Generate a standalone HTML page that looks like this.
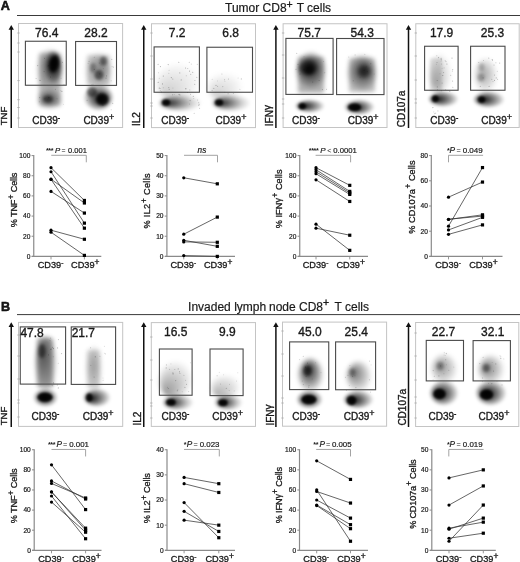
<!DOCTYPE html><html><head><meta charset="utf-8"><title>Figure</title><style>
html,body{margin:0;padding:0;background:#fff;}body{width:520px;height:562px;overflow:hidden;}
svg{display:block;}text{font-family:'Liberation Sans', Arial, Helvetica, sans-serif;fill:#1a1a1a;}.h{stroke:#1a1a1a;stroke-width:0.35px;}.h2{stroke:#1a1a1a;stroke-width:0.2px;}.h3{stroke:#1a1a1a;stroke-width:0.3px;}
</style></head><body>
<svg width="520" height="562" viewBox="0 0 520 562">
<defs>
<filter id="b1" x="-100%" y="-100%" width="300%" height="300%"><feGaussianBlur stdDeviation="0.8"/></filter>
<filter id="b2" x="-100%" y="-100%" width="300%" height="300%"><feGaussianBlur stdDeviation="1.6"/></filter>
<filter id="b3" x="-100%" y="-100%" width="300%" height="300%"><feGaussianBlur stdDeviation="2.8"/></filter>
<filter id="b4" x="-100%" y="-100%" width="300%" height="300%"><feGaussianBlur stdDeviation="4"/></filter>
<clipPath id="c1"><rect x="19" y="24" width="103.1" height="103"/></clipPath>
<clipPath id="c2"><rect x="152" y="24.25" width="103" height="102.85"/></clipPath>
<clipPath id="c3"><rect x="283.6" y="24.25" width="102.9" height="102.75"/></clipPath>
<clipPath id="c4"><rect x="416.3" y="24.25" width="102.4" height="102.75"/></clipPath>
<clipPath id="c5"><rect x="19" y="322.9" width="103.2" height="103"/></clipPath>
<clipPath id="c6"><rect x="151.8" y="323.1" width="103.2" height="102.8"/></clipPath>
<clipPath id="c7"><rect x="283" y="322.6" width="103.1" height="103.1"/></clipPath>
<clipPath id="c8"><rect x="416.1" y="323" width="102.2" height="103"/></clipPath>
<radialGradient id="rg0" cx="0.5" cy="0.5" r="0.5" fx="0.6" fy="0.35"><stop offset="0" stop-color="#000" stop-opacity="0.5"/><stop offset="0.25" stop-color="#000" stop-opacity="0.41"/><stop offset="0.5" stop-color="#000" stop-opacity="0.29"/><stop offset="0.75" stop-color="#000" stop-opacity="0.15"/><stop offset="1" stop-color="#000" stop-opacity="0"/></radialGradient><radialGradient id="rg1" cx="0.5" cy="0.5" r="0.5" fx="0.55" fy="0.35"><stop offset="0" stop-color="#000" stop-opacity="0.95"/><stop offset="0.25" stop-color="#000" stop-opacity="0.78"/><stop offset="0.5" stop-color="#000" stop-opacity="0.54"/><stop offset="0.75" stop-color="#000" stop-opacity="0.29"/><stop offset="1" stop-color="#000" stop-opacity="0"/></radialGradient><radialGradient id="rg2" cx="0.5" cy="0.5" r="0.5" fx="0.45" fy="0.55"><stop offset="0" stop-color="#000" stop-opacity="0.6"/><stop offset="0.25" stop-color="#000" stop-opacity="0.49"/><stop offset="0.5" stop-color="#000" stop-opacity="0.34"/><stop offset="0.75" stop-color="#000" stop-opacity="0.18"/><stop offset="1" stop-color="#000" stop-opacity="0"/></radialGradient><radialGradient id="rg3" cx="0.5" cy="0.5" r="0.5" fx="0.6" fy="0.4"><stop offset="0" stop-color="#000" stop-opacity="0.35"/><stop offset="0.25" stop-color="#000" stop-opacity="0.29"/><stop offset="0.5" stop-color="#000" stop-opacity="0.2"/><stop offset="0.75" stop-color="#000" stop-opacity="0.1"/><stop offset="1" stop-color="#000" stop-opacity="0"/></radialGradient><radialGradient id="rg4" cx="0.5" cy="0.5" r="0.5" fx="0.6" fy="0.55"><stop offset="0" stop-color="#000" stop-opacity="1"/><stop offset="0.25" stop-color="#000" stop-opacity="0.82"/><stop offset="0.5" stop-color="#000" stop-opacity="0.57"/><stop offset="0.75" stop-color="#000" stop-opacity="0.3"/><stop offset="1" stop-color="#000" stop-opacity="0"/></radialGradient><radialGradient id="rg5" cx="0.5" cy="0.5" r="0.5" fx="0.2" fy="0.88"><stop offset="0" stop-color="#000" stop-opacity="0.2"/><stop offset="0.25" stop-color="#000" stop-opacity="0.16"/><stop offset="0.5" stop-color="#000" stop-opacity="0.11"/><stop offset="0.75" stop-color="#000" stop-opacity="0.06"/><stop offset="1" stop-color="#000" stop-opacity="0"/></radialGradient><radialGradient id="rg6" cx="0.5" cy="0.5" r="0.5" fx="0.17" fy="0.5"><stop offset="0" stop-color="#000" stop-opacity="0.88"/><stop offset="0.25" stop-color="#000" stop-opacity="0.66"/><stop offset="0.5" stop-color="#000" stop-opacity="0.4"/><stop offset="0.75" stop-color="#000" stop-opacity="0.16"/><stop offset="1" stop-color="#000" stop-opacity="0"/></radialGradient><radialGradient id="rg7" cx="0.5" cy="0.5" r="0.5" fx="0.2" fy="0.88"><stop offset="0" stop-color="#000" stop-opacity="0.2"/><stop offset="0.25" stop-color="#000" stop-opacity="0.16"/><stop offset="0.5" stop-color="#000" stop-opacity="0.11"/><stop offset="0.75" stop-color="#000" stop-opacity="0.06"/><stop offset="1" stop-color="#000" stop-opacity="0"/></radialGradient><radialGradient id="rg8" cx="0.5" cy="0.5" r="0.5" fx="0.19" fy="0.5"><stop offset="0" stop-color="#000" stop-opacity="0.88"/><stop offset="0.25" stop-color="#000" stop-opacity="0.66"/><stop offset="0.5" stop-color="#000" stop-opacity="0.4"/><stop offset="0.75" stop-color="#000" stop-opacity="0.16"/><stop offset="1" stop-color="#000" stop-opacity="0"/></radialGradient><radialGradient id="rg9" cx="0.5" cy="0.5" r="0.5" fx="0.45" fy="0.4"><stop offset="0" stop-color="#000" stop-opacity="0.85"/><stop offset="0.25" stop-color="#000" stop-opacity="0.69"/><stop offset="0.5" stop-color="#000" stop-opacity="0.49"/><stop offset="0.75" stop-color="#000" stop-opacity="0.26"/><stop offset="1" stop-color="#000" stop-opacity="0"/></radialGradient><radialGradient id="rg10" cx="0.5" cy="0.5" r="0.5" fx="0.24" fy="0.5"><stop offset="0" stop-color="#000" stop-opacity="0.95"/><stop offset="0.25" stop-color="#000" stop-opacity="0.78"/><stop offset="0.5" stop-color="#000" stop-opacity="0.54"/><stop offset="0.75" stop-color="#000" stop-opacity="0.29"/><stop offset="1" stop-color="#000" stop-opacity="0"/></radialGradient><radialGradient id="rg11" cx="0.5" cy="0.5" r="0.5" fx="0.58" fy="0.4"><stop offset="0" stop-color="#000" stop-opacity="0.7"/><stop offset="0.25" stop-color="#000" stop-opacity="0.57"/><stop offset="0.5" stop-color="#000" stop-opacity="0.4"/><stop offset="0.75" stop-color="#000" stop-opacity="0.21"/><stop offset="1" stop-color="#000" stop-opacity="0"/></radialGradient><radialGradient id="rg12" cx="0.5" cy="0.5" r="0.5" fx="0.33" fy="0.55"><stop offset="0" stop-color="#000" stop-opacity="0.98"/><stop offset="0.25" stop-color="#000" stop-opacity="0.8"/><stop offset="0.5" stop-color="#000" stop-opacity="0.56"/><stop offset="0.75" stop-color="#000" stop-opacity="0.29"/><stop offset="1" stop-color="#000" stop-opacity="0"/></radialGradient><radialGradient id="rg13" cx="0.5" cy="0.5" r="0.5" fx="0.3" fy="0.72"><stop offset="0" stop-color="#000" stop-opacity="0.28"/><stop offset="0.25" stop-color="#000" stop-opacity="0.23"/><stop offset="0.5" stop-color="#000" stop-opacity="0.16"/><stop offset="0.75" stop-color="#000" stop-opacity="0.08"/><stop offset="1" stop-color="#000" stop-opacity="0"/></radialGradient><radialGradient id="rg14" cx="0.5" cy="0.5" r="0.5" fx="0.24" fy="0.5"><stop offset="0" stop-color="#000" stop-opacity="0.95"/><stop offset="0.25" stop-color="#000" stop-opacity="0.78"/><stop offset="0.5" stop-color="#000" stop-opacity="0.54"/><stop offset="0.75" stop-color="#000" stop-opacity="0.29"/><stop offset="1" stop-color="#000" stop-opacity="0"/></radialGradient><radialGradient id="rg15" cx="0.5" cy="0.5" r="0.5" fx="0.4" fy="0.45"><stop offset="0" stop-color="#000" stop-opacity="0.33"/><stop offset="0.25" stop-color="#000" stop-opacity="0.27"/><stop offset="0.5" stop-color="#000" stop-opacity="0.19"/><stop offset="0.75" stop-color="#000" stop-opacity="0.1"/><stop offset="1" stop-color="#000" stop-opacity="0"/></radialGradient><radialGradient id="rg16" cx="0.5" cy="0.5" r="0.5" fx="0.26" fy="0.5"><stop offset="0" stop-color="#000" stop-opacity="0.95"/><stop offset="0.25" stop-color="#000" stop-opacity="0.78"/><stop offset="0.5" stop-color="#000" stop-opacity="0.54"/><stop offset="0.75" stop-color="#000" stop-opacity="0.29"/><stop offset="1" stop-color="#000" stop-opacity="0"/></radialGradient><radialGradient id="rg17" cx="0.5" cy="0.5" r="0.5" fx="0.33" fy="0.25"><stop offset="0" stop-color="#000" stop-opacity="0.55"/><stop offset="0.25" stop-color="#000" stop-opacity="0.45"/><stop offset="0.5" stop-color="#000" stop-opacity="0.31"/><stop offset="0.75" stop-color="#000" stop-opacity="0.17"/><stop offset="1" stop-color="#000" stop-opacity="0"/></radialGradient><radialGradient id="rg18" cx="0.5" cy="0.5" r="0.5" fx="0.45" fy="0.5"><stop offset="0" stop-color="#000" stop-opacity="1"/><stop offset="0.25" stop-color="#000" stop-opacity="0.82"/><stop offset="0.5" stop-color="#000" stop-opacity="0.57"/><stop offset="0.75" stop-color="#000" stop-opacity="0.3"/><stop offset="1" stop-color="#000" stop-opacity="0"/></radialGradient><radialGradient id="rg19" cx="0.5" cy="0.5" r="0.5" fx="0.45" fy="0.45"><stop offset="0" stop-color="#000" stop-opacity="0.25"/><stop offset="0.25" stop-color="#000" stop-opacity="0.2"/><stop offset="0.5" stop-color="#000" stop-opacity="0.14"/><stop offset="0.75" stop-color="#000" stop-opacity="0.07"/><stop offset="1" stop-color="#000" stop-opacity="0"/></radialGradient><radialGradient id="rg20" cx="0.5" cy="0.5" r="0.5" fx="0.22" fy="0.55"><stop offset="0" stop-color="#000" stop-opacity="0.95"/><stop offset="0.25" stop-color="#000" stop-opacity="0.78"/><stop offset="0.5" stop-color="#000" stop-opacity="0.54"/><stop offset="0.75" stop-color="#000" stop-opacity="0.29"/><stop offset="1" stop-color="#000" stop-opacity="0"/></radialGradient><radialGradient id="rg21" cx="0.5" cy="0.5" r="0.5" fx="0.2" fy="0.88"><stop offset="0" stop-color="#000" stop-opacity="0.4"/><stop offset="0.25" stop-color="#000" stop-opacity="0.33"/><stop offset="0.5" stop-color="#000" stop-opacity="0.23"/><stop offset="0.75" stop-color="#000" stop-opacity="0.12"/><stop offset="1" stop-color="#000" stop-opacity="0"/></radialGradient><radialGradient id="rg22" cx="0.5" cy="0.5" r="0.5" fx="0.2" fy="0.88"><stop offset="0" stop-color="#000" stop-opacity="0.32"/><stop offset="0.25" stop-color="#000" stop-opacity="0.26"/><stop offset="0.5" stop-color="#000" stop-opacity="0.18"/><stop offset="0.75" stop-color="#000" stop-opacity="0.1"/><stop offset="1" stop-color="#000" stop-opacity="0"/></radialGradient><radialGradient id="rg23" cx="0.5" cy="0.5" r="0.5" fx="0.22" fy="0.5"><stop offset="0" stop-color="#000" stop-opacity="0.95"/><stop offset="0.25" stop-color="#000" stop-opacity="0.73"/><stop offset="0.5" stop-color="#000" stop-opacity="0.46"/><stop offset="0.75" stop-color="#000" stop-opacity="0.2"/><stop offset="1" stop-color="#000" stop-opacity="0"/></radialGradient><radialGradient id="rg24" cx="0.5" cy="0.5" r="0.5" fx="0.25" fy="0.5"><stop offset="0" stop-color="#000" stop-opacity="0.95"/><stop offset="0.25" stop-color="#000" stop-opacity="0.73"/><stop offset="0.5" stop-color="#000" stop-opacity="0.46"/><stop offset="0.75" stop-color="#000" stop-opacity="0.2"/><stop offset="1" stop-color="#000" stop-opacity="0"/></radialGradient><radialGradient id="rg25" cx="0.5" cy="0.5" r="0.5" fx="0.4" fy="0.3"><stop offset="0" stop-color="#000" stop-opacity="0.85"/><stop offset="0.25" stop-color="#000" stop-opacity="0.69"/><stop offset="0.5" stop-color="#000" stop-opacity="0.49"/><stop offset="0.75" stop-color="#000" stop-opacity="0.26"/><stop offset="1" stop-color="#000" stop-opacity="0"/></radialGradient><radialGradient id="rg26" cx="0.5" cy="0.5" r="0.5" fx="0.42" fy="0.5"><stop offset="0" stop-color="#000" stop-opacity="1"/><stop offset="0.25" stop-color="#000" stop-opacity="0.82"/><stop offset="0.5" stop-color="#000" stop-opacity="0.57"/><stop offset="0.75" stop-color="#000" stop-opacity="0.3"/><stop offset="1" stop-color="#000" stop-opacity="0"/></radialGradient><radialGradient id="rg27" cx="0.5" cy="0.5" r="0.5" fx="0.3" fy="0.35"><stop offset="0" stop-color="#000" stop-opacity="0.55"/><stop offset="0.25" stop-color="#000" stop-opacity="0.45"/><stop offset="0.5" stop-color="#000" stop-opacity="0.31"/><stop offset="0.75" stop-color="#000" stop-opacity="0.17"/><stop offset="1" stop-color="#000" stop-opacity="0"/></radialGradient><radialGradient id="rg28" cx="0.5" cy="0.5" r="0.5" fx="0.25" fy="0.55"><stop offset="0" stop-color="#000" stop-opacity="0.98"/><stop offset="0.25" stop-color="#000" stop-opacity="0.8"/><stop offset="0.5" stop-color="#000" stop-opacity="0.56"/><stop offset="0.75" stop-color="#000" stop-opacity="0.29"/><stop offset="1" stop-color="#000" stop-opacity="0"/></radialGradient><radialGradient id="rg29" cx="0.5" cy="0.5" r="0.5" fx="0.35" fy="0.4"><stop offset="0" stop-color="#000" stop-opacity="0.42"/><stop offset="0.25" stop-color="#000" stop-opacity="0.34"/><stop offset="0.5" stop-color="#000" stop-opacity="0.24"/><stop offset="0.75" stop-color="#000" stop-opacity="0.13"/><stop offset="1" stop-color="#000" stop-opacity="0"/></radialGradient><radialGradient id="rg30" cx="0.5" cy="0.5" r="0.5" fx="0.3" fy="0.55"><stop offset="0" stop-color="#000" stop-opacity="1"/><stop offset="0.25" stop-color="#000" stop-opacity="0.82"/><stop offset="0.5" stop-color="#000" stop-opacity="0.57"/><stop offset="0.75" stop-color="#000" stop-opacity="0.3"/><stop offset="1" stop-color="#000" stop-opacity="0"/></radialGradient><radialGradient id="rg31" cx="0.5" cy="0.5" r="0.5" fx="0.3" fy="0.45"><stop offset="0" stop-color="#000" stop-opacity="0.5"/><stop offset="0.25" stop-color="#000" stop-opacity="0.41"/><stop offset="0.5" stop-color="#000" stop-opacity="0.29"/><stop offset="0.75" stop-color="#000" stop-opacity="0.15"/><stop offset="1" stop-color="#000" stop-opacity="0"/></radialGradient><radialGradient id="rg32" cx="0.5" cy="0.5" r="0.5" fx="0.33" fy="0.55"><stop offset="0" stop-color="#000" stop-opacity="1"/><stop offset="0.25" stop-color="#000" stop-opacity="0.82"/><stop offset="0.5" stop-color="#000" stop-opacity="0.57"/><stop offset="0.75" stop-color="#000" stop-opacity="0.3"/><stop offset="1" stop-color="#000" stop-opacity="0"/></radialGradient><filter id="b25" x="-100%" y="-100%" width="300%" height="300%"><feGaussianBlur stdDeviation="2.2"/></filter></defs>
<rect width="520" height="562" fill="#fff"/>
<text x="0.8" y="9.7" font-size="12.6" font-weight="bold" stroke="#000" stroke-width="0.5">A</text>
<line x1="17" y1="15.5" x2="520" y2="15.5" stroke="#3a3a3a" stroke-width="1"/>
<text class="h2" x="225" y="12.1" font-size="12">Tumor CD8<tspan class="h" font-size="10.5" dy="-4.6">+</tspan></text>
<text class="h2" x="331.1" y="12.1" font-size="12" text-anchor="end">T cells</text>
<text x="0.9" y="311" font-size="12.6" font-weight="bold" stroke="#000" stroke-width="0.5">B</text>
<line x1="17" y1="314.6" x2="520" y2="314.6" stroke="#3a3a3a" stroke-width="1"/>
<text class="h2" x="188.1" y="310.8" font-size="12">Invaded lymph</text>
<text class="h2" x="269" y="310.8" font-size="12">node CD8<tspan class="h" font-size="10.5" dy="-4.6">+</tspan></text>
<text class="h2" x="369" y="310.8" font-size="12" text-anchor="end">T cells</text>
<rect x="18.5" y="23.5" width="104.1" height="104" fill="none" stroke="#c4c4c4" stroke-width="1"/>
<line x1="17.3" y1="33" x2="19.7" y2="33" stroke="#aaa" stroke-width="0.8"/>
<line x1="17.3" y1="43" x2="19.7" y2="43" stroke="#aaa" stroke-width="0.8"/>
<line x1="17.3" y1="52" x2="19.7" y2="52" stroke="#aaa" stroke-width="0.8"/>
<line x1="17.3" y1="80.6" x2="19.7" y2="80.6" stroke="#aaa" stroke-width="0.8"/>
<line x1="17.3" y1="99.7" x2="19.7" y2="99.7" stroke="#aaa" stroke-width="0.8"/>
<line x1="17.3" y1="107.5" x2="19.7" y2="107.5" stroke="#aaa" stroke-width="0.8"/>
<line x1="17.3" y1="118" x2="19.7" y2="118" stroke="#aaa" stroke-width="0.8"/>
<g clip-path="url(#c1)">
<rect x="39" y="53" width="22" height="53" rx="2" fill="#000" fill-opacity="0.28" filter="url(#b25)"/>
<ellipse cx="50" cy="70" rx="14" ry="22" fill="url(#rg0)" filter="url(#b3)"/>
<ellipse cx="53.5" cy="67" rx="9.5" ry="17" fill="url(#rg1)" filter="url(#b2)"/>
<ellipse cx="54" cy="64" rx="4.5" ry="8.5" fill="#000" fill-opacity="0.85" filter="url(#b2)" transform="rotate(12 54 64)"/>
<ellipse cx="49.5" cy="98.5" rx="12.5" ry="10.5" fill="url(#rg2)" filter="url(#b25)"/>
<ellipse cx="48" cy="99" rx="5" ry="3.5" fill="#000" fill-opacity="0.45" filter="url(#b2)"/>
<rect x="87" y="55" width="23" height="31" rx="2" fill="#000" fill-opacity="0.2" filter="url(#b25)"/>
<ellipse cx="98.5" cy="71" rx="14.5" ry="19" fill="url(#rg3)" filter="url(#b25)"/>
<ellipse cx="103.5" cy="61" rx="3.5" ry="4.5" fill="#000" fill-opacity="0.45" filter="url(#b2)"/>
<ellipse cx="99" cy="75" rx="4.5" ry="5" fill="#000" fill-opacity="0.5" filter="url(#b2)"/>
<ellipse cx="93" cy="68" rx="3" ry="5" fill="#000" fill-opacity="0.3" filter="url(#b2)"/>
<ellipse cx="98.5" cy="97.5" rx="15.5" ry="13.5" fill="url(#rg4)" filter="url(#b2)"/>
<ellipse cx="102.5" cy="99.5" rx="6" ry="6" fill="#000" fill-opacity="0.85" filter="url(#b2)"/>
<ellipse cx="92" cy="92" rx="5" ry="5" fill="#000" fill-opacity="0.5" filter="url(#b2)"/>
<circle cx="37.7" cy="65.6" r="0.55" fill="#000" fill-opacity="0.24"/>
<circle cx="55.4" cy="89.2" r="0.55" fill="#000" fill-opacity="0.18"/>
<circle cx="50.5" cy="77" r="0.55" fill="#000" fill-opacity="0.21"/>
<circle cx="39.3" cy="101.8" r="0.55" fill="#000" fill-opacity="0.16"/>
<circle cx="63.4" cy="104.3" r="0.55" fill="#000" fill-opacity="0.13"/>
<circle cx="48.9" cy="97.6" r="0.55" fill="#000" fill-opacity="0.29"/>
<circle cx="48.6" cy="65.6" r="0.55" fill="#000" fill-opacity="0.16"/>
<circle cx="62.5" cy="62.2" r="0.55" fill="#000" fill-opacity="0.23"/>
<circle cx="40" cy="80.4" r="0.55" fill="#000" fill-opacity="0.29"/>
<circle cx="39.7" cy="97.6" r="0.55" fill="#000" fill-opacity="0.21"/>
<circle cx="60.8" cy="90.8" r="0.55" fill="#000" fill-opacity="0.17"/>
<circle cx="61.1" cy="78.2" r="0.55" fill="#000" fill-opacity="0.13"/>
<circle cx="36.1" cy="78.5" r="0.55" fill="#000" fill-opacity="0.2"/>
<circle cx="44.5" cy="58.2" r="0.55" fill="#000" fill-opacity="0.19"/>
<circle cx="44.9" cy="98.7" r="0.55" fill="#000" fill-opacity="0.13"/>
<circle cx="57" cy="98.7" r="0.55" fill="#000" fill-opacity="0.15"/>
<circle cx="61.9" cy="91.4" r="0.55" fill="#000" fill-opacity="0.28"/>
<circle cx="44.1" cy="71.6" r="0.55" fill="#000" fill-opacity="0.19"/>
<circle cx="64" cy="84.2" r="0.55" fill="#000" fill-opacity="0.19"/>
<circle cx="48" cy="66" r="0.55" fill="#000" fill-opacity="0.13"/>
<circle cx="87.1" cy="100.4" r="0.55" fill="#000" fill-opacity="0.17"/>
<circle cx="112.1" cy="66.5" r="0.55" fill="#000" fill-opacity="0.17"/>
<circle cx="99.3" cy="63" r="0.55" fill="#000" fill-opacity="0.19"/>
<circle cx="112.7" cy="103.3" r="0.55" fill="#000" fill-opacity="0.27"/>
<circle cx="102.9" cy="105" r="0.55" fill="#000" fill-opacity="0.29"/>
<circle cx="100.5" cy="93.7" r="0.55" fill="#000" fill-opacity="0.13"/>
<circle cx="106" cy="78.1" r="0.55" fill="#000" fill-opacity="0.26"/>
<circle cx="103.3" cy="68.6" r="0.55" fill="#000" fill-opacity="0.13"/>
<circle cx="111.8" cy="59.4" r="0.55" fill="#000" fill-opacity="0.21"/>
<circle cx="94.3" cy="69.3" r="0.55" fill="#000" fill-opacity="0.25"/>
<circle cx="113.3" cy="67.1" r="0.55" fill="#000" fill-opacity="0.24"/>
<circle cx="93" cy="84.3" r="0.55" fill="#000" fill-opacity="0.19"/>
<circle cx="89" cy="61.4" r="0.55" fill="#000" fill-opacity="0.16"/>
<circle cx="111.2" cy="80.8" r="0.55" fill="#000" fill-opacity="0.16"/>
<circle cx="111.2" cy="109.8" r="0.55" fill="#000" fill-opacity="0.2"/>
<circle cx="88.2" cy="63.2" r="0.55" fill="#000" fill-opacity="0.14"/>
<circle cx="94.3" cy="57.3" r="0.55" fill="#000" fill-opacity="0.17"/>
<circle cx="91.8" cy="85" r="0.55" fill="#000" fill-opacity="0.28"/>
<circle cx="106.5" cy="75.9" r="0.55" fill="#000" fill-opacity="0.2"/>
<circle cx="99.7" cy="73.9" r="0.55" fill="#000" fill-opacity="0.18"/>
</g>
<rect x="25.4" y="41.25" width="40.85" height="44" fill="none" stroke="#4a4a4a" stroke-width="1.1"/>
<rect x="75.6" y="41.5" width="40.9" height="43.9" fill="none" stroke="#4a4a4a" stroke-width="1.1"/>
<text class="h" x="46.8" y="36.9" font-size="12" text-anchor="middle">76.4</text>
<text class="h" x="96" y="36.9" font-size="12" text-anchor="middle">28.2</text>
<text class="h" x="46.2" y="123.75" font-size="10" text-anchor="middle">CD39<tspan font-size="7" dy="-4">-</tspan></text>
<text class="h" x="98.8" y="123.75" font-size="10" text-anchor="middle">CD39<tspan font-size="9" dy="-3.6">+</tspan></text>
<line x1="11.25" y1="28" x2="11.25" y2="128" stroke="#111" stroke-width="1.5"/>
<path d="M11.25 25L8.55 29.8L13.95 29.8Z" fill="#111"/>
<text class="h" x="7.2" y="125.3" font-size="9.6" transform="rotate(-90 7.2 125.3)">TNF</text>
<rect x="151.5" y="23.75" width="104" height="103.85" fill="none" stroke="#c4c4c4" stroke-width="1"/>
<line x1="150.3" y1="33" x2="152.7" y2="33" stroke="#aaa" stroke-width="0.8"/>
<line x1="150.3" y1="56" x2="152.7" y2="56" stroke="#aaa" stroke-width="0.8"/>
<line x1="150.3" y1="79" x2="152.7" y2="79" stroke="#aaa" stroke-width="0.8"/>
<line x1="150.3" y1="103" x2="152.7" y2="103" stroke="#aaa" stroke-width="0.8"/>
<line x1="150.3" y1="106" x2="152.7" y2="106" stroke="#aaa" stroke-width="0.8"/>
<line x1="150.3" y1="118" x2="152.7" y2="118" stroke="#aaa" stroke-width="0.8"/>
<g clip-path="url(#c2)">
<ellipse cx="178" cy="81.5" rx="23" ry="19.5" fill="url(#rg5)" filter="url(#b3)"/>
<ellipse cx="180" cy="103" rx="22" ry="9" fill="url(#rg6)" filter="url(#b2)"/>
<ellipse cx="225" cy="86.5" rx="18" ry="14.5" fill="url(#rg7)" filter="url(#b3)"/>
<ellipse cx="231" cy="103" rx="20" ry="9" fill="url(#rg8)" filter="url(#b2)"/>
<ellipse cx="166" cy="102.5" rx="4" ry="3.2" fill="#000" fill-opacity="0.9" filter="url(#b1)"/>
<ellipse cx="219" cy="102.5" rx="4" ry="3.2" fill="#000" fill-opacity="0.9" filter="url(#b1)"/>
<circle cx="179" cy="94.4" r="0.55" fill="#000" fill-opacity="0.26"/>
<circle cx="172.5" cy="94.8" r="0.55" fill="#000" fill-opacity="0.24"/>
<circle cx="169.1" cy="70.2" r="0.55" fill="#000" fill-opacity="0.18"/>
<circle cx="194.9" cy="80.5" r="0.55" fill="#000" fill-opacity="0.23"/>
<circle cx="189.8" cy="89.9" r="0.55" fill="#000" fill-opacity="0.18"/>
<circle cx="187.5" cy="92.5" r="0.55" fill="#000" fill-opacity="0.27"/>
<circle cx="174.2" cy="94.5" r="0.55" fill="#000" fill-opacity="0.16"/>
<circle cx="169.2" cy="89.2" r="0.55" fill="#000" fill-opacity="0.27"/>
<circle cx="186.3" cy="75.7" r="0.55" fill="#000" fill-opacity="0.2"/>
<circle cx="190.7" cy="74.4" r="0.55" fill="#000" fill-opacity="0.21"/>
<circle cx="168.8" cy="73.3" r="0.55" fill="#000" fill-opacity="0.18"/>
<circle cx="179.8" cy="72.9" r="0.55" fill="#000" fill-opacity="0.27"/>
<circle cx="181.2" cy="79.9" r="0.55" fill="#000" fill-opacity="0.27"/>
<circle cx="194.7" cy="84.2" r="0.55" fill="#000" fill-opacity="0.29"/>
<circle cx="178.8" cy="62.3" r="0.55" fill="#000" fill-opacity="0.32"/>
<circle cx="179.9" cy="94.9" r="0.55" fill="#000" fill-opacity="0.25"/>
<circle cx="158.6" cy="72.8" r="0.55" fill="#000" fill-opacity="0.18"/>
<circle cx="190.5" cy="94.2" r="0.55" fill="#000" fill-opacity="0.24"/>
<circle cx="187.7" cy="68.5" r="0.55" fill="#000" fill-opacity="0.21"/>
<circle cx="191.3" cy="64.1" r="0.55" fill="#000" fill-opacity="0.18"/>
<circle cx="162.5" cy="83.9" r="0.55" fill="#000" fill-opacity="0.27"/>
<circle cx="168.8" cy="87.6" r="0.55" fill="#000" fill-opacity="0.27"/>
<circle cx="172.8" cy="79" r="0.55" fill="#000" fill-opacity="0.29"/>
<circle cx="185.6" cy="68" r="0.55" fill="#000" fill-opacity="0.32"/>
<circle cx="159.3" cy="78.3" r="0.55" fill="#000" fill-opacity="0.16"/>
<circle cx="160.6" cy="88.5" r="0.55" fill="#000" fill-opacity="0.16"/>
<circle cx="159.3" cy="87.8" r="0.55" fill="#000" fill-opacity="0.16"/>
<circle cx="160.3" cy="90.8" r="0.55" fill="#000" fill-opacity="0.22"/>
<circle cx="189.3" cy="62.3" r="0.55" fill="#000" fill-opacity="0.25"/>
<circle cx="159.3" cy="88.4" r="0.55" fill="#000" fill-opacity="0.21"/>
<circle cx="158.1" cy="64.4" r="0.55" fill="#000" fill-opacity="0.26"/>
<circle cx="158.2" cy="82.3" r="0.55" fill="#000" fill-opacity="0.36"/>
<circle cx="163.3" cy="87.7" r="0.55" fill="#000" fill-opacity="0.19"/>
<circle cx="185.5" cy="88.8" r="0.55" fill="#000" fill-opacity="0.2"/>
<circle cx="189.5" cy="71.1" r="0.55" fill="#000" fill-opacity="0.32"/>
<circle cx="172.9" cy="88" r="0.55" fill="#000" fill-opacity="0.16"/>
<circle cx="163.3" cy="76" r="0.55" fill="#000" fill-opacity="0.35"/>
<circle cx="197.3" cy="64.2" r="0.55" fill="#000" fill-opacity="0.23"/>
<circle cx="161.5" cy="92" r="0.55" fill="#000" fill-opacity="0.28"/>
<circle cx="171.3" cy="77.6" r="0.55" fill="#000" fill-opacity="0.32"/>
<circle cx="192.7" cy="72.2" r="0.55" fill="#000" fill-opacity="0.31"/>
<circle cx="186" cy="88.7" r="0.55" fill="#000" fill-opacity="0.32"/>
<circle cx="168.2" cy="64.6" r="0.55" fill="#000" fill-opacity="0.3"/>
<circle cx="160.4" cy="66.6" r="0.55" fill="#000" fill-opacity="0.32"/>
<circle cx="196.8" cy="77.4" r="0.55" fill="#000" fill-opacity="0.22"/>
<circle cx="193.7" cy="98.5" r="0.55" fill="#000" fill-opacity="0.15"/>
<circle cx="199.6" cy="108.3" r="0.55" fill="#000" fill-opacity="0.26"/>
<circle cx="199.1" cy="104.2" r="0.55" fill="#000" fill-opacity="0.33"/>
<circle cx="197.6" cy="100" r="0.55" fill="#000" fill-opacity="0.2"/>
<circle cx="190.1" cy="100.6" r="0.55" fill="#000" fill-opacity="0.27"/>
<circle cx="189.6" cy="104" r="0.55" fill="#000" fill-opacity="0.18"/>
<circle cx="198.7" cy="102.7" r="0.55" fill="#000" fill-opacity="0.25"/>
<circle cx="194.2" cy="113.2" r="0.55" fill="#000" fill-opacity="0.24"/>
<circle cx="198.8" cy="105.5" r="0.55" fill="#000" fill-opacity="0.26"/>
<circle cx="193.3" cy="96.4" r="0.55" fill="#000" fill-opacity="0.24"/>
<circle cx="233.4" cy="93.4" r="0.55" fill="#000" fill-opacity="0.18"/>
<circle cx="217.6" cy="86.4" r="0.55" fill="#000" fill-opacity="0.2"/>
<circle cx="224.6" cy="92.2" r="0.55" fill="#000" fill-opacity="0.15"/>
<circle cx="224.6" cy="79.8" r="0.55" fill="#000" fill-opacity="0.25"/>
<circle cx="222.8" cy="86.6" r="0.55" fill="#000" fill-opacity="0.22"/>
<circle cx="221.9" cy="74" r="0.55" fill="#000" fill-opacity="0.22"/>
<circle cx="216" cy="85.4" r="0.55" fill="#000" fill-opacity="0.26"/>
<circle cx="213.3" cy="88.2" r="0.55" fill="#000" fill-opacity="0.12"/>
<circle cx="228.4" cy="79" r="0.55" fill="#000" fill-opacity="0.25"/>
<circle cx="228.1" cy="93.8" r="0.55" fill="#000" fill-opacity="0.25"/>
<circle cx="239.9" cy="89.2" r="0.55" fill="#000" fill-opacity="0.19"/>
<circle cx="213.9" cy="88.5" r="0.55" fill="#000" fill-opacity="0.19"/>
<circle cx="217.4" cy="80.9" r="0.55" fill="#000" fill-opacity="0.11"/>
<circle cx="212.1" cy="90.6" r="0.55" fill="#000" fill-opacity="0.21"/>
<circle cx="241.3" cy="78.9" r="0.55" fill="#000" fill-opacity="0.26"/>
<circle cx="212.2" cy="79.2" r="0.55" fill="#000" fill-opacity="0.15"/>
<circle cx="238.1" cy="78" r="0.55" fill="#000" fill-opacity="0.15"/>
<circle cx="224.9" cy="81.5" r="0.55" fill="#000" fill-opacity="0.12"/>
</g>
<rect x="154.1" y="46.9" width="45.3" height="45.35" fill="none" stroke="#4a4a4a" stroke-width="1.1"/>
<rect x="206.9" y="47.25" width="45.6" height="45" fill="none" stroke="#4a4a4a" stroke-width="1.1"/>
<text class="h" x="177.2" y="36.9" font-size="12" text-anchor="middle">7.2</text>
<text class="h" x="230.6" y="36.9" font-size="12" text-anchor="middle">6.8</text>
<text class="h" x="175.2" y="123.75" font-size="10" text-anchor="middle">CD39<tspan font-size="7" dy="-4">-</tspan></text>
<text class="h" x="231" y="123.75" font-size="10" text-anchor="middle">CD39<tspan font-size="9" dy="-3.6">+</tspan></text>
<line x1="143.75" y1="28" x2="143.75" y2="128" stroke="#111" stroke-width="1.5"/>
<path d="M143.75 25L141.05 29.8L146.45 29.8Z" fill="#111"/>
<text class="h" x="139.6" y="126" font-size="10" transform="rotate(-90 139.6 126)">IL2</text>
<rect x="283.1" y="23.75" width="103.9" height="103.75" fill="none" stroke="#c4c4c4" stroke-width="1"/>
<line x1="281.9" y1="33" x2="284.3" y2="33" stroke="#aaa" stroke-width="0.8"/>
<line x1="281.9" y1="55" x2="284.3" y2="55" stroke="#aaa" stroke-width="0.8"/>
<line x1="281.9" y1="78" x2="284.3" y2="78" stroke="#aaa" stroke-width="0.8"/>
<line x1="281.9" y1="99" x2="284.3" y2="99" stroke="#aaa" stroke-width="0.8"/>
<line x1="281.9" y1="104" x2="284.3" y2="104" stroke="#aaa" stroke-width="0.8"/>
<line x1="281.9" y1="118" x2="284.3" y2="118" stroke="#aaa" stroke-width="0.8"/>
<g clip-path="url(#c3)">
<rect x="298" y="57" width="26" height="36" rx="2" fill="#000" fill-opacity="0.3" filter="url(#b25)"/>
<ellipse cx="311" cy="70.5" rx="16" ry="19.5" fill="url(#rg9)" filter="url(#b25)"/>
<ellipse cx="308" cy="68" rx="9" ry="7" fill="#000" fill-opacity="0.6" filter="url(#b25)"/>
<ellipse cx="309" cy="70" rx="4.5" ry="4" fill="#000" fill-opacity="0.6" filter="url(#b2)"/>
<ellipse cx="310" cy="106" rx="15" ry="7" fill="url(#rg10)" filter="url(#b2)"/>
<ellipse cx="302.3" cy="106.3" rx="3.5" ry="3" fill="#000" fill-opacity="0.9" filter="url(#b1)"/>
<rect x="349" y="58" width="26" height="34" rx="2" fill="#000" fill-opacity="0.25" filter="url(#b25)"/>
<ellipse cx="362" cy="73" rx="16" ry="19" fill="url(#rg11)" filter="url(#b25)"/>
<ellipse cx="364" cy="71.5" rx="6" ry="6" fill="#000" fill-opacity="0.5" filter="url(#b25)"/>
<ellipse cx="359.5" cy="107" rx="15.5" ry="8" fill="url(#rg12)" filter="url(#b2)"/>
<ellipse cx="354.5" cy="107.2" rx="6.5" ry="3.8" fill="#000" fill-opacity="0.9" filter="url(#b1)"/>
<circle cx="298" cy="64.2" r="0.55" fill="#000" fill-opacity="0.24"/>
<circle cx="300" cy="74.1" r="0.55" fill="#000" fill-opacity="0.19"/>
<circle cx="323.6" cy="61.5" r="0.55" fill="#000" fill-opacity="0.14"/>
<circle cx="304" cy="69.6" r="0.55" fill="#000" fill-opacity="0.16"/>
<circle cx="326.5" cy="89.3" r="0.55" fill="#000" fill-opacity="0.22"/>
<circle cx="296.7" cy="53.4" r="0.55" fill="#000" fill-opacity="0.2"/>
<circle cx="324.7" cy="72.8" r="0.55" fill="#000" fill-opacity="0.18"/>
<circle cx="296" cy="69.2" r="0.55" fill="#000" fill-opacity="0.23"/>
<circle cx="322.4" cy="89.6" r="0.55" fill="#000" fill-opacity="0.24"/>
<circle cx="304" cy="56.8" r="0.55" fill="#000" fill-opacity="0.12"/>
<circle cx="312.7" cy="82" r="0.55" fill="#000" fill-opacity="0.23"/>
<circle cx="319.1" cy="80.5" r="0.55" fill="#000" fill-opacity="0.21"/>
<circle cx="360.1" cy="77.2" r="0.55" fill="#000" fill-opacity="0.11"/>
<circle cx="370.8" cy="63.8" r="0.55" fill="#000" fill-opacity="0.23"/>
<circle cx="366.3" cy="66.8" r="0.55" fill="#000" fill-opacity="0.12"/>
<circle cx="353.3" cy="80.7" r="0.55" fill="#000" fill-opacity="0.2"/>
<circle cx="348.7" cy="57" r="0.55" fill="#000" fill-opacity="0.17"/>
<circle cx="364.2" cy="70.3" r="0.55" fill="#000" fill-opacity="0.13"/>
<circle cx="364.8" cy="54.4" r="0.55" fill="#000" fill-opacity="0.14"/>
<circle cx="360.2" cy="94.3" r="0.55" fill="#000" fill-opacity="0.19"/>
<circle cx="374.2" cy="74" r="0.55" fill="#000" fill-opacity="0.13"/>
<circle cx="353.2" cy="94.3" r="0.55" fill="#000" fill-opacity="0.2"/>
<circle cx="355.1" cy="54.9" r="0.55" fill="#000" fill-opacity="0.17"/>
<circle cx="367.3" cy="71.6" r="0.55" fill="#000" fill-opacity="0.14"/>
</g>
<rect x="285.9" y="38.4" width="47.2" height="56" fill="none" stroke="#4a4a4a" stroke-width="1.1"/>
<rect x="336.6" y="38.5" width="47.4" height="56.1" fill="none" stroke="#4a4a4a" stroke-width="1.1"/>
<text class="h" x="309.3" y="36.9" font-size="12" text-anchor="middle">75.7</text>
<text class="h" x="362.2" y="36.9" font-size="12" text-anchor="middle">54.3</text>
<text class="h" x="305.9" y="123.75" font-size="10" text-anchor="middle">CD39<tspan font-size="7" dy="-4">-</tspan></text>
<text class="h" x="363.2" y="123.75" font-size="10" text-anchor="middle">CD39<tspan font-size="9" dy="-3.6">+</tspan></text>
<line x1="275.9" y1="28" x2="275.9" y2="128" stroke="#111" stroke-width="1.5"/>
<path d="M275.9 25L273.2 29.8L278.6 29.8Z" fill="#111"/>
<text class="h" x="272.6" y="126.2" font-size="10" transform="rotate(-90 272.6 126.2)">IFN<tspan dy="-1.5">γ</tspan></text>
<rect x="415.8" y="23.75" width="103.4" height="103.75" fill="none" stroke="#c4c4c4" stroke-width="1"/>
<line x1="414.6" y1="33" x2="417" y2="33" stroke="#aaa" stroke-width="0.8"/>
<line x1="414.6" y1="56" x2="417" y2="56" stroke="#aaa" stroke-width="0.8"/>
<line x1="414.6" y1="80" x2="417" y2="80" stroke="#aaa" stroke-width="0.8"/>
<line x1="414.6" y1="99" x2="417" y2="99" stroke="#aaa" stroke-width="0.8"/>
<line x1="414.6" y1="103" x2="417" y2="103" stroke="#aaa" stroke-width="0.8"/>
<line x1="414.6" y1="118" x2="417" y2="118" stroke="#aaa" stroke-width="0.8"/>
<g clip-path="url(#c4)">
<rect x="430" y="58" width="12" height="34" rx="2" fill="#000" fill-opacity="0.12" filter="url(#b2)"/>
<ellipse cx="440" cy="73.5" rx="12" ry="21.5" fill="url(#rg13)" filter="url(#b25)"/>
<ellipse cx="443.5" cy="99" rx="15.5" ry="8" fill="url(#rg14)" filter="url(#b2)"/>
<ellipse cx="435.3" cy="98.7" rx="3.2" ry="3.2" fill="#000" fill-opacity="0.9" filter="url(#b1)"/>
<ellipse cx="485.5" cy="75.5" rx="12.5" ry="18.5" fill="url(#rg15)" filter="url(#b25)"/>
<ellipse cx="481.5" cy="67" rx="3" ry="4" fill="#000" fill-opacity="0.2" filter="url(#b2)"/>
<ellipse cx="481" cy="77.5" rx="3.5" ry="4" fill="#000" fill-opacity="0.25" filter="url(#b2)"/>
<ellipse cx="489" cy="99.5" rx="16" ry="8.5" fill="url(#rg16)" filter="url(#b2)"/>
<ellipse cx="481.6" cy="99.6" rx="3.5" ry="3.2" fill="#000" fill-opacity="0.9" filter="url(#b1)"/>
<circle cx="437.2" cy="80.5" r="0.55" fill="#000" fill-opacity="0.22"/>
<circle cx="437.4" cy="89.7" r="0.55" fill="#000" fill-opacity="0.26"/>
<circle cx="452" cy="58.1" r="0.55" fill="#000" fill-opacity="0.31"/>
<circle cx="437.3" cy="86.9" r="0.55" fill="#000" fill-opacity="0.23"/>
<circle cx="442.8" cy="75.5" r="0.55" fill="#000" fill-opacity="0.32"/>
<circle cx="441.4" cy="59.8" r="0.55" fill="#000" fill-opacity="0.24"/>
<circle cx="440.8" cy="59" r="0.55" fill="#000" fill-opacity="0.17"/>
<circle cx="437" cy="62.5" r="0.55" fill="#000" fill-opacity="0.2"/>
<circle cx="442.1" cy="83.1" r="0.55" fill="#000" fill-opacity="0.2"/>
<circle cx="446" cy="61.6" r="0.55" fill="#000" fill-opacity="0.21"/>
<circle cx="436.4" cy="64.3" r="0.55" fill="#000" fill-opacity="0.14"/>
<circle cx="450.7" cy="75.4" r="0.55" fill="#000" fill-opacity="0.18"/>
<circle cx="445.5" cy="89.6" r="0.55" fill="#000" fill-opacity="0.16"/>
<circle cx="452.4" cy="71" r="0.55" fill="#000" fill-opacity="0.24"/>
<circle cx="452.7" cy="69.5" r="0.55" fill="#000" fill-opacity="0.24"/>
<circle cx="449.8" cy="91.4" r="0.55" fill="#000" fill-opacity="0.21"/>
<circle cx="452.6" cy="81.1" r="0.55" fill="#000" fill-opacity="0.26"/>
<circle cx="444.1" cy="67.9" r="0.55" fill="#000" fill-opacity="0.15"/>
<circle cx="438.6" cy="57.6" r="0.55" fill="#000" fill-opacity="0.29"/>
<circle cx="441.1" cy="61" r="0.55" fill="#000" fill-opacity="0.16"/>
<circle cx="452.8" cy="87.2" r="0.55" fill="#000" fill-opacity="0.27"/>
<circle cx="441.6" cy="64" r="0.55" fill="#000" fill-opacity="0.2"/>
<circle cx="445.2" cy="60.8" r="0.55" fill="#000" fill-opacity="0.23"/>
<circle cx="441.3" cy="90.6" r="0.55" fill="#000" fill-opacity="0.33"/>
<circle cx="446.9" cy="64" r="0.55" fill="#000" fill-opacity="0.33"/>
<circle cx="442.2" cy="68.2" r="0.55" fill="#000" fill-opacity="0.14"/>
<circle cx="443.6" cy="72.6" r="0.55" fill="#000" fill-opacity="0.24"/>
<circle cx="440" cy="73.7" r="0.55" fill="#000" fill-opacity="0.14"/>
<circle cx="441.3" cy="58.3" r="0.55" fill="#000" fill-opacity="0.22"/>
<circle cx="436.8" cy="55.8" r="0.55" fill="#000" fill-opacity="0.2"/>
<circle cx="483.1" cy="77.9" r="0.55" fill="#000" fill-opacity="0.22"/>
<circle cx="494.5" cy="80.4" r="0.55" fill="#000" fill-opacity="0.25"/>
<circle cx="497.3" cy="71.2" r="0.55" fill="#000" fill-opacity="0.18"/>
<circle cx="499.7" cy="63.1" r="0.55" fill="#000" fill-opacity="0.25"/>
<circle cx="492.2" cy="59.5" r="0.55" fill="#000" fill-opacity="0.27"/>
<circle cx="497.6" cy="79.3" r="0.55" fill="#000" fill-opacity="0.25"/>
<circle cx="495.9" cy="62.7" r="0.55" fill="#000" fill-opacity="0.22"/>
<circle cx="489.1" cy="86.4" r="0.55" fill="#000" fill-opacity="0.27"/>
<circle cx="496.2" cy="77.9" r="0.55" fill="#000" fill-opacity="0.28"/>
<circle cx="493" cy="81.6" r="0.55" fill="#000" fill-opacity="0.17"/>
<circle cx="478.7" cy="62.5" r="0.55" fill="#000" fill-opacity="0.19"/>
<circle cx="480.3" cy="86.4" r="0.55" fill="#000" fill-opacity="0.22"/>
<circle cx="491.8" cy="79.3" r="0.55" fill="#000" fill-opacity="0.24"/>
<circle cx="488.8" cy="58.1" r="0.55" fill="#000" fill-opacity="0.26"/>
<circle cx="494.5" cy="75.1" r="0.55" fill="#000" fill-opacity="0.22"/>
<circle cx="492.5" cy="60.2" r="0.55" fill="#000" fill-opacity="0.25"/>
<circle cx="483.5" cy="60.5" r="0.55" fill="#000" fill-opacity="0.17"/>
<circle cx="494" cy="65" r="0.55" fill="#000" fill-opacity="0.25"/>
<circle cx="437.9" cy="110.9" r="0.55" fill="#000" fill-opacity="0.23"/>
<circle cx="434.9" cy="113.6" r="0.55" fill="#000" fill-opacity="0.31"/>
<circle cx="435.7" cy="113" r="0.55" fill="#000" fill-opacity="0.17"/>
<circle cx="432.9" cy="107.6" r="0.55" fill="#000" fill-opacity="0.31"/>
<circle cx="433.8" cy="111.9" r="0.55" fill="#000" fill-opacity="0.15"/>
</g>
<rect x="424.6" y="46.25" width="33.5" height="44" fill="none" stroke="#4a4a4a" stroke-width="1.1"/>
<rect x="470.6" y="46.25" width="34.4" height="44" fill="none" stroke="#4a4a4a" stroke-width="1.1"/>
<text class="h" x="441.6" y="36.9" font-size="12" text-anchor="middle">17.9</text>
<text class="h" x="492.5" y="36.9" font-size="12" text-anchor="middle">25.3</text>
<text class="h" x="444.3" y="123.75" font-size="10" text-anchor="middle">CD39<tspan font-size="7" dy="-4">-</tspan></text>
<text class="h" x="496.6" y="123.75" font-size="10" text-anchor="middle">CD39<tspan font-size="9" dy="-3.6">+</tspan></text>
<line x1="408.5" y1="28" x2="408.5" y2="128" stroke="#111" stroke-width="1.5"/>
<path d="M408.5 25L405.8 29.8L411.2 29.8Z" fill="#111"/>
<text class="h" x="405.2" y="127.3" font-size="10" transform="rotate(-90 405.2 127.3)">CD107a</text>
<rect x="18.5" y="322.4" width="104.2" height="104" fill="none" stroke="#c4c4c4" stroke-width="1"/>
<line x1="17.3" y1="335" x2="19.7" y2="335" stroke="#aaa" stroke-width="0.8"/>
<line x1="17.3" y1="356" x2="19.7" y2="356" stroke="#aaa" stroke-width="0.8"/>
<line x1="17.3" y1="379" x2="19.7" y2="379" stroke="#aaa" stroke-width="0.8"/>
<line x1="17.3" y1="400" x2="19.7" y2="400" stroke="#aaa" stroke-width="0.8"/>
<line x1="17.3" y1="403" x2="19.7" y2="403" stroke="#aaa" stroke-width="0.8"/>
<line x1="17.3" y1="417" x2="19.7" y2="417" stroke="#aaa" stroke-width="0.8"/>
<g clip-path="url(#c5)">
<rect x="37" y="338" width="16" height="49" rx="2" fill="#000" fill-opacity="0.33" filter="url(#b25)"/>
<ellipse cx="46" cy="364" rx="12" ry="30" fill="url(#rg17)" filter="url(#b25)"/>
<ellipse cx="42" cy="351" rx="3.5" ry="7" fill="#000" fill-opacity="0.45" filter="url(#b2)"/>
<ellipse cx="45.5" cy="397.5" rx="12.5" ry="9.5" fill="url(#rg18)" filter="url(#b2)"/>
<ellipse cx="45" cy="397.3" rx="7.5" ry="4.5" fill="#000" fill-opacity="0.9" filter="url(#b1)"/>
<rect x="87" y="350" width="13" height="38" rx="2" fill="#000" fill-opacity="0.17" filter="url(#b25)"/>
<ellipse cx="94" cy="368" rx="9" ry="24" fill="url(#rg19)" filter="url(#b25)"/>
<ellipse cx="97" cy="397.5" rx="14" ry="9.5" fill="url(#rg20)" filter="url(#b2)"/>
<ellipse cx="89.3" cy="397.5" rx="3" ry="4" fill="#000" fill-opacity="0.85" filter="url(#b1)"/>
<circle cx="57.3" cy="384.3" r="0.55" fill="#000" fill-opacity="0.16"/>
<circle cx="48.5" cy="354.9" r="0.55" fill="#000" fill-opacity="0.2"/>
<circle cx="57.6" cy="347.9" r="0.55" fill="#000" fill-opacity="0.26"/>
<circle cx="58.3" cy="363.2" r="0.55" fill="#000" fill-opacity="0.16"/>
<circle cx="61.6" cy="353.6" r="0.55" fill="#000" fill-opacity="0.27"/>
<circle cx="51.2" cy="349.1" r="0.55" fill="#000" fill-opacity="0.26"/>
<circle cx="52.1" cy="385.6" r="0.55" fill="#000" fill-opacity="0.21"/>
<circle cx="50.6" cy="349.2" r="0.55" fill="#000" fill-opacity="0.2"/>
<circle cx="57.3" cy="385.4" r="0.55" fill="#000" fill-opacity="0.15"/>
<circle cx="53.5" cy="348.6" r="0.55" fill="#000" fill-opacity="0.3"/>
<circle cx="50" cy="340.6" r="0.55" fill="#000" fill-opacity="0.14"/>
<circle cx="53.5" cy="382.9" r="0.55" fill="#000" fill-opacity="0.28"/>
<circle cx="58.3" cy="387.9" r="0.55" fill="#000" fill-opacity="0.29"/>
<circle cx="52.6" cy="347.3" r="0.55" fill="#000" fill-opacity="0.29"/>
<circle cx="58.4" cy="339.6" r="0.55" fill="#000" fill-opacity="0.24"/>
<circle cx="53.3" cy="356.7" r="0.55" fill="#000" fill-opacity="0.18"/>
<circle cx="50.4" cy="338.1" r="0.55" fill="#000" fill-opacity="0.17"/>
<circle cx="52.9" cy="385.8" r="0.55" fill="#000" fill-opacity="0.15"/>
<circle cx="105.4" cy="353.9" r="0.55" fill="#000" fill-opacity="0.15"/>
<circle cx="103.1" cy="380.3" r="0.55" fill="#000" fill-opacity="0.16"/>
<circle cx="90.8" cy="365.4" r="0.55" fill="#000" fill-opacity="0.15"/>
<circle cx="104.7" cy="353.3" r="0.55" fill="#000" fill-opacity="0.15"/>
<circle cx="104.4" cy="346.3" r="0.55" fill="#000" fill-opacity="0.16"/>
<circle cx="103" cy="378" r="0.55" fill="#000" fill-opacity="0.11"/>
<circle cx="90.6" cy="347.7" r="0.55" fill="#000" fill-opacity="0.23"/>
<circle cx="94.1" cy="377.1" r="0.55" fill="#000" fill-opacity="0.23"/>
<circle cx="95.4" cy="356.7" r="0.55" fill="#000" fill-opacity="0.23"/>
<circle cx="99.9" cy="356.3" r="0.55" fill="#000" fill-opacity="0.2"/>
<circle cx="95.1" cy="356.9" r="0.55" fill="#000" fill-opacity="0.1"/>
<circle cx="102.1" cy="384.4" r="0.55" fill="#000" fill-opacity="0.19"/>
</g>
<rect x="20.25" y="326.9" width="45.35" height="57.2" fill="none" stroke="#4a4a4a" stroke-width="1.1"/>
<rect x="71.25" y="326.9" width="44.35" height="57.5" fill="none" stroke="#4a4a4a" stroke-width="1.1"/>
<text class="h" x="20.4" y="336.5" font-size="12" text-anchor="start">47.8</text>
<text class="h" x="71.7" y="336.5" font-size="12" text-anchor="start">21.7</text>
<text class="h" x="45.5" y="420" font-size="10" text-anchor="middle">CD39<tspan font-size="7" dy="-4">-</tspan></text>
<text class="h" x="98.2" y="420" font-size="10" text-anchor="middle">CD39<tspan font-size="9" dy="-3.6">+</tspan></text>
<line x1="11.25" y1="325.3" x2="11.25" y2="427" stroke="#111" stroke-width="1.5"/>
<path d="M11.25 322.3L8.55 327.1L13.95 327.1Z" fill="#111"/>
<text class="h" x="7.2" y="425.3" font-size="9.6" transform="rotate(-90 7.2 425.3)">TNF</text>
<rect x="151.3" y="322.6" width="104.2" height="103.8" fill="none" stroke="#c4c4c4" stroke-width="1"/>
<line x1="150.1" y1="337" x2="152.5" y2="337" stroke="#aaa" stroke-width="0.8"/>
<line x1="150.1" y1="360" x2="152.5" y2="360" stroke="#aaa" stroke-width="0.8"/>
<line x1="150.1" y1="380" x2="152.5" y2="380" stroke="#aaa" stroke-width="0.8"/>
<line x1="150.1" y1="403" x2="152.5" y2="403" stroke="#aaa" stroke-width="0.8"/>
<line x1="150.1" y1="406" x2="152.5" y2="406" stroke="#aaa" stroke-width="0.8"/>
<line x1="150.1" y1="418" x2="152.5" y2="418" stroke="#aaa" stroke-width="0.8"/>
<g clip-path="url(#c6)">
<ellipse cx="175.5" cy="379.5" rx="17.5" ry="19.5" fill="url(#rg21)" filter="url(#b25)"/>
<ellipse cx="225.5" cy="386.5" rx="15.5" ry="12.5" fill="url(#rg22)" filter="url(#b25)"/>
<ellipse cx="178" cy="402.5" rx="16" ry="8.5" fill="url(#rg23)" filter="url(#b2)"/>
<ellipse cx="171" cy="402.3" rx="4.5" ry="3.3" fill="#000" fill-opacity="0.9" filter="url(#b1)"/>
<ellipse cx="228.5" cy="402.5" rx="14.5" ry="8.5" fill="url(#rg24)" filter="url(#b2)"/>
<ellipse cx="223" cy="402.7" rx="4.5" ry="3.3" fill="#000" fill-opacity="0.9" filter="url(#b1)"/>
<circle cx="190.4" cy="362.7" r="0.55" fill="#000" fill-opacity="0.17"/>
<circle cx="177.3" cy="390.7" r="0.55" fill="#000" fill-opacity="0.29"/>
<circle cx="174.8" cy="369.5" r="0.55" fill="#000" fill-opacity="0.2"/>
<circle cx="177.8" cy="389.8" r="0.55" fill="#000" fill-opacity="0.16"/>
<circle cx="186.5" cy="384.2" r="0.55" fill="#000" fill-opacity="0.27"/>
<circle cx="185.6" cy="380.2" r="0.55" fill="#000" fill-opacity="0.18"/>
<circle cx="172.9" cy="372.9" r="0.55" fill="#000" fill-opacity="0.26"/>
<circle cx="166.2" cy="367.9" r="0.55" fill="#000" fill-opacity="0.26"/>
<circle cx="170.9" cy="363.9" r="0.55" fill="#000" fill-opacity="0.13"/>
<circle cx="179.5" cy="371.8" r="0.55" fill="#000" fill-opacity="0.3"/>
<circle cx="188.7" cy="391.6" r="0.55" fill="#000" fill-opacity="0.17"/>
<circle cx="166.4" cy="364.9" r="0.55" fill="#000" fill-opacity="0.21"/>
<circle cx="183.9" cy="375.4" r="0.55" fill="#000" fill-opacity="0.17"/>
<circle cx="175.7" cy="380.6" r="0.55" fill="#000" fill-opacity="0.24"/>
<circle cx="184.9" cy="387.4" r="0.55" fill="#000" fill-opacity="0.24"/>
<circle cx="167.4" cy="387.2" r="0.55" fill="#000" fill-opacity="0.18"/>
<circle cx="179.9" cy="373.2" r="0.55" fill="#000" fill-opacity="0.25"/>
<circle cx="169.6" cy="369.4" r="0.55" fill="#000" fill-opacity="0.17"/>
<circle cx="168.3" cy="388.5" r="0.55" fill="#000" fill-opacity="0.23"/>
<circle cx="173.1" cy="373.9" r="0.55" fill="#000" fill-opacity="0.3"/>
<circle cx="178.2" cy="368.9" r="0.55" fill="#000" fill-opacity="0.27"/>
<circle cx="182.3" cy="391.7" r="0.55" fill="#000" fill-opacity="0.14"/>
<circle cx="226.3" cy="388.4" r="0.55" fill="#000" fill-opacity="0.22"/>
<circle cx="237.8" cy="372.8" r="0.55" fill="#000" fill-opacity="0.14"/>
<circle cx="217.1" cy="375.8" r="0.55" fill="#000" fill-opacity="0.24"/>
<circle cx="229.2" cy="390.6" r="0.55" fill="#000" fill-opacity="0.15"/>
<circle cx="236.5" cy="381" r="0.55" fill="#000" fill-opacity="0.14"/>
<circle cx="234.2" cy="390.9" r="0.55" fill="#000" fill-opacity="0.11"/>
<circle cx="229.5" cy="384.4" r="0.55" fill="#000" fill-opacity="0.13"/>
<circle cx="223.6" cy="374.8" r="0.55" fill="#000" fill-opacity="0.13"/>
<circle cx="220.6" cy="384" r="0.55" fill="#000" fill-opacity="0.19"/>
<circle cx="219.3" cy="372.2" r="0.55" fill="#000" fill-opacity="0.15"/>
</g>
<rect x="159.4" y="349" width="32.7" height="46.25" fill="none" stroke="#4a4a4a" stroke-width="1.1"/>
<rect x="210" y="349" width="33.1" height="46.6" fill="none" stroke="#4a4a4a" stroke-width="1.1"/>
<text class="h" x="175.7" y="335.6" font-size="12" text-anchor="middle">16.5</text>
<text class="h" x="227.3" y="335.6" font-size="12" text-anchor="middle">9.9</text>
<text class="h" x="175.4" y="420" font-size="10" text-anchor="middle">CD39<tspan font-size="7" dy="-4">-</tspan></text>
<text class="h" x="227.6" y="420" font-size="10" text-anchor="middle">CD39<tspan font-size="9" dy="-3.6">+</tspan></text>
<line x1="143.75" y1="325.3" x2="143.75" y2="427" stroke="#111" stroke-width="1.5"/>
<path d="M143.75 322.3L141.05 327.1L146.45 327.1Z" fill="#111"/>
<text class="h" x="140.8" y="425.6" font-size="10" transform="rotate(-90 140.8 425.6)">IL2</text>
<rect x="282.5" y="322.1" width="104.1" height="104.1" fill="none" stroke="#c4c4c4" stroke-width="1"/>
<line x1="281.3" y1="331" x2="283.7" y2="331" stroke="#aaa" stroke-width="0.8"/>
<line x1="281.3" y1="354" x2="283.7" y2="354" stroke="#aaa" stroke-width="0.8"/>
<line x1="281.3" y1="376" x2="283.7" y2="376" stroke="#aaa" stroke-width="0.8"/>
<line x1="281.3" y1="398" x2="283.7" y2="398" stroke="#aaa" stroke-width="0.8"/>
<line x1="281.3" y1="403" x2="283.7" y2="403" stroke="#aaa" stroke-width="0.8"/>
<line x1="281.3" y1="418" x2="283.7" y2="418" stroke="#aaa" stroke-width="0.8"/>
<g clip-path="url(#c7)">
<ellipse cx="310.5" cy="375" rx="13.5" ry="18" fill="url(#rg25)" filter="url(#b25)"/>
<ellipse cx="307.5" cy="371" rx="4" ry="5" fill="#000" fill-opacity="0.55" filter="url(#b2)"/>
<ellipse cx="309.5" cy="399.5" rx="13.5" ry="9.5" fill="url(#rg26)" filter="url(#b2)"/>
<ellipse cx="309" cy="399.5" rx="7.5" ry="4.5" fill="#000" fill-opacity="0.9" filter="url(#b1)"/>
<ellipse cx="358.5" cy="376.5" rx="13.5" ry="16.5" fill="url(#rg27)" filter="url(#b25)"/>
<ellipse cx="352.3" cy="372.6" rx="3" ry="4" fill="#000" fill-opacity="0.3" filter="url(#b2)"/>
<ellipse cx="358.5" cy="399.5" rx="15.5" ry="9.5" fill="url(#rg28)" filter="url(#b2)"/>
<ellipse cx="351.5" cy="400.5" rx="4.5" ry="4.5" fill="#000" fill-opacity="0.9" filter="url(#b1)"/>
<circle cx="315.6" cy="362.7" r="0.55" fill="#000" fill-opacity="0.14"/>
<circle cx="303.3" cy="384.6" r="0.55" fill="#000" fill-opacity="0.18"/>
<circle cx="299.6" cy="359.6" r="0.55" fill="#000" fill-opacity="0.16"/>
<circle cx="312.3" cy="379" r="0.55" fill="#000" fill-opacity="0.11"/>
<circle cx="302.3" cy="381" r="0.55" fill="#000" fill-opacity="0.16"/>
<circle cx="305.4" cy="367.1" r="0.55" fill="#000" fill-opacity="0.23"/>
<circle cx="306.1" cy="376.4" r="0.55" fill="#000" fill-opacity="0.15"/>
<circle cx="308.8" cy="387.1" r="0.55" fill="#000" fill-opacity="0.24"/>
<circle cx="307.5" cy="363.1" r="0.55" fill="#000" fill-opacity="0.2"/>
<circle cx="303.3" cy="356.2" r="0.55" fill="#000" fill-opacity="0.23"/>
<circle cx="309" cy="385.5" r="0.55" fill="#000" fill-opacity="0.16"/>
<circle cx="321" cy="372.6" r="0.55" fill="#000" fill-opacity="0.12"/>
<circle cx="345.4" cy="377.3" r="0.55" fill="#000" fill-opacity="0.19"/>
<circle cx="369.6" cy="361.1" r="0.55" fill="#000" fill-opacity="0.19"/>
<circle cx="355" cy="375.7" r="0.55" fill="#000" fill-opacity="0.12"/>
<circle cx="352.6" cy="376.2" r="0.55" fill="#000" fill-opacity="0.23"/>
<circle cx="347.9" cy="375.2" r="0.55" fill="#000" fill-opacity="0.21"/>
<circle cx="371.1" cy="364.9" r="0.55" fill="#000" fill-opacity="0.12"/>
<circle cx="370.5" cy="392.1" r="0.55" fill="#000" fill-opacity="0.17"/>
<circle cx="346.4" cy="390.4" r="0.55" fill="#000" fill-opacity="0.15"/>
<circle cx="369.4" cy="379.7" r="0.55" fill="#000" fill-opacity="0.22"/>
<circle cx="349.3" cy="385.5" r="0.55" fill="#000" fill-opacity="0.13"/>
<circle cx="355.9" cy="387.6" r="0.55" fill="#000" fill-opacity="0.22"/>
<circle cx="349.9" cy="365.6" r="0.55" fill="#000" fill-opacity="0.16"/>
</g>
<rect x="289.6" y="341.9" width="39.15" height="47.7" fill="none" stroke="#4a4a4a" stroke-width="1.1"/>
<rect x="335.6" y="341.9" width="40" height="47.85" fill="none" stroke="#4a4a4a" stroke-width="1.1"/>
<text class="h" x="310" y="336.25" font-size="12" text-anchor="middle">45.0</text>
<text class="h" x="356.3" y="336.25" font-size="12" text-anchor="middle">25.4</text>
<text class="h" x="306.2" y="420" font-size="10" text-anchor="middle">CD39<tspan font-size="7" dy="-4">-</tspan></text>
<text class="h" x="359.2" y="420" font-size="10" text-anchor="middle">CD39<tspan font-size="9" dy="-3.6">+</tspan></text>
<line x1="275.9" y1="325.3" x2="275.9" y2="427" stroke="#111" stroke-width="1.5"/>
<path d="M275.9 322.3L273.2 327.1L278.6 327.1Z" fill="#111"/>
<text class="h" x="274" y="425.6" font-size="10" transform="rotate(-90 274 425.6)">IFN<tspan dy="-1.5">γ</tspan></text>
<rect x="415.6" y="322.5" width="103.2" height="104" fill="none" stroke="#c4c4c4" stroke-width="1"/>
<line x1="414.4" y1="333" x2="416.8" y2="333" stroke="#aaa" stroke-width="0.8"/>
<line x1="414.4" y1="356" x2="416.8" y2="356" stroke="#aaa" stroke-width="0.8"/>
<line x1="414.4" y1="380" x2="416.8" y2="380" stroke="#aaa" stroke-width="0.8"/>
<line x1="414.4" y1="397" x2="416.8" y2="397" stroke="#aaa" stroke-width="0.8"/>
<line x1="414.4" y1="403" x2="416.8" y2="403" stroke="#aaa" stroke-width="0.8"/>
<line x1="414.4" y1="418" x2="416.8" y2="418" stroke="#aaa" stroke-width="0.8"/>
<g clip-path="url(#c8)">
<ellipse cx="444" cy="369" rx="14" ry="16" fill="url(#rg29)" filter="url(#b25)"/>
<ellipse cx="440.2" cy="366" rx="3.5" ry="4" fill="#000" fill-opacity="0.3" filter="url(#b2)"/>
<ellipse cx="444" cy="393" rx="15" ry="13" fill="url(#rg30)" filter="url(#b2)"/>
<ellipse cx="439.5" cy="394" rx="6" ry="5" fill="#000" fill-opacity="0.9" filter="url(#b1)"/>
<ellipse cx="491" cy="369.5" rx="14" ry="15.5" fill="url(#rg31)" filter="url(#b25)"/>
<ellipse cx="486.3" cy="368" rx="3.5" ry="4" fill="#000" fill-opacity="0.4" filter="url(#b2)"/>
<ellipse cx="491" cy="393" rx="16" ry="13" fill="url(#rg32)" filter="url(#b2)"/>
<ellipse cx="486.5" cy="394.7" rx="6.5" ry="5" fill="#000" fill-opacity="0.9" filter="url(#b1)"/>
<circle cx="446.5" cy="364.7" r="0.55" fill="#000" fill-opacity="0.12"/>
<circle cx="438.9" cy="375.9" r="0.55" fill="#000" fill-opacity="0.23"/>
<circle cx="433.2" cy="370.6" r="0.55" fill="#000" fill-opacity="0.21"/>
<circle cx="433.1" cy="379.7" r="0.55" fill="#000" fill-opacity="0.12"/>
<circle cx="448.8" cy="370.2" r="0.55" fill="#000" fill-opacity="0.19"/>
<circle cx="440.6" cy="365.9" r="0.55" fill="#000" fill-opacity="0.18"/>
<circle cx="443.9" cy="373.7" r="0.55" fill="#000" fill-opacity="0.16"/>
<circle cx="444.3" cy="352.8" r="0.55" fill="#000" fill-opacity="0.19"/>
<circle cx="445.7" cy="359.8" r="0.55" fill="#000" fill-opacity="0.21"/>
<circle cx="453.8" cy="367.1" r="0.55" fill="#000" fill-opacity="0.13"/>
<circle cx="445.3" cy="355.5" r="0.55" fill="#000" fill-opacity="0.12"/>
<circle cx="444.1" cy="355" r="0.55" fill="#000" fill-opacity="0.16"/>
<circle cx="446.3" cy="353.3" r="0.55" fill="#000" fill-opacity="0.19"/>
<circle cx="434.3" cy="376.2" r="0.55" fill="#000" fill-opacity="0.21"/>
<circle cx="446.3" cy="353.8" r="0.55" fill="#000" fill-opacity="0.17"/>
<circle cx="488.6" cy="383.4" r="0.55" fill="#000" fill-opacity="0.12"/>
<circle cx="502" cy="384.9" r="0.55" fill="#000" fill-opacity="0.2"/>
<circle cx="500.8" cy="358.4" r="0.55" fill="#000" fill-opacity="0.24"/>
<circle cx="491.8" cy="383.6" r="0.55" fill="#000" fill-opacity="0.23"/>
<circle cx="482.6" cy="378" r="0.55" fill="#000" fill-opacity="0.23"/>
<circle cx="479.8" cy="363.6" r="0.55" fill="#000" fill-opacity="0.21"/>
<circle cx="482.4" cy="381.6" r="0.55" fill="#000" fill-opacity="0.14"/>
<circle cx="500.8" cy="356.7" r="0.55" fill="#000" fill-opacity="0.17"/>
<circle cx="503.8" cy="358.9" r="0.55" fill="#000" fill-opacity="0.14"/>
<circle cx="492.2" cy="362.5" r="0.55" fill="#000" fill-opacity="0.11"/>
<circle cx="483.1" cy="357.3" r="0.55" fill="#000" fill-opacity="0.23"/>
<circle cx="497" cy="381.5" r="0.55" fill="#000" fill-opacity="0.12"/>
<circle cx="500" cy="355.8" r="0.55" fill="#000" fill-opacity="0.17"/>
<circle cx="495.8" cy="363.9" r="0.55" fill="#000" fill-opacity="0.22"/>
<circle cx="493.5" cy="371.1" r="0.55" fill="#000" fill-opacity="0.22"/>
</g>
<rect x="426.25" y="340.4" width="37.25" height="40.5" fill="none" stroke="#4a4a4a" stroke-width="1.1"/>
<rect x="473.1" y="340.6" width="37.3" height="40.3" fill="none" stroke="#4a4a4a" stroke-width="1.1"/>
<text class="h" x="443.5" y="336.25" font-size="12" text-anchor="middle">22.7</text>
<text class="h" x="492.8" y="336.25" font-size="12" text-anchor="middle">32.1</text>
<text class="h" x="442.4" y="420" font-size="10" text-anchor="middle">CD39<tspan font-size="7" dy="-4">-</tspan></text>
<text class="h" x="494" y="420" font-size="10" text-anchor="middle">CD39<tspan font-size="9" dy="-3.6">+</tspan></text>
<line x1="408.5" y1="325.3" x2="408.5" y2="427" stroke="#111" stroke-width="1.5"/>
<path d="M408.5 322.3L405.8 327.1L411.2 327.1Z" fill="#111"/>
<text class="h" x="405.7" y="425.6" font-size="10" transform="rotate(-90 405.7 425.6)">CD107a</text>
<line x1="33.75" y1="155.1" x2="33.75" y2="256.4" stroke="#8a8a8a" stroke-width="1.2"/>
<line x1="31.75" y1="256.4" x2="101.3" y2="256.4" stroke="#8a8a8a" stroke-width="1.2"/>
<line x1="31.55" y1="256.4" x2="33.75" y2="256.4" stroke="#8a8a8a" stroke-width="1"/>
<text class="h2" x="30.35" y="258.75" font-size="6.6" text-anchor="end" fill="#333" stroke="#333">0</text>
<line x1="31.55" y1="236.24" x2="33.75" y2="236.24" stroke="#8a8a8a" stroke-width="1"/>
<text class="h2" x="30.35" y="238.59" font-size="6.6" text-anchor="end" fill="#333" stroke="#333">20</text>
<line x1="31.55" y1="216.08" x2="33.75" y2="216.08" stroke="#8a8a8a" stroke-width="1"/>
<text class="h2" x="30.35" y="218.43" font-size="6.6" text-anchor="end" fill="#333" stroke="#333">40</text>
<line x1="31.55" y1="195.92" x2="33.75" y2="195.92" stroke="#8a8a8a" stroke-width="1"/>
<text class="h2" x="30.35" y="198.27" font-size="6.6" text-anchor="end" fill="#333" stroke="#333">60</text>
<line x1="31.55" y1="175.76" x2="33.75" y2="175.76" stroke="#8a8a8a" stroke-width="1"/>
<text class="h2" x="30.35" y="178.11" font-size="6.6" text-anchor="end" fill="#333" stroke="#333">80</text>
<line x1="31.55" y1="155.6" x2="33.75" y2="155.6" stroke="#8a8a8a" stroke-width="1"/>
<text class="h2" x="30.35" y="157.95" font-size="6.6" text-anchor="end" fill="#333" stroke="#333">100</text>
<line x1="51" y1="256.4" x2="51" y2="259.4" stroke="#8a8a8a" stroke-width="0.9"/>
<line x1="84.4" y1="256.4" x2="84.4" y2="259.4" stroke="#8a8a8a" stroke-width="0.9"/>
<text class="h3" x="50.5" y="268.4" font-size="9.2" text-anchor="middle">CD39<tspan font-size="6.5" dy="-3.6">-</tspan></text>
<text class="h3" x="85.3" y="268.4" font-size="9.2" text-anchor="middle">CD39<tspan font-size="8.4" dy="-3.4" class="h">+</tspan></text>
<text class="h3" x="17.4" y="199.9" font-size="9.2" text-anchor="middle" textLength="54.6" lengthAdjust="spacing" transform="rotate(-90 17.4 199.9)">% TNF<tspan font-size="8.2" dy="-3.7" dx="0.4">+</tspan><tspan dy="3.7"> Cells</tspan></text>
<polyline points="51.25,155.3 51.25,155.3 86.3,155.3 86.3,162.3" fill="none" stroke="#999" stroke-width="0.9"/>
<text x="45.9" y="152.8" font-size="7.2" font-weight="bold" fill="#222" letter-spacing="-0.35">***</text><text class="h2" x="54.9" y="153" font-size="7.8" font-style="italic">P</text><text x="61.6" y="152.8" font-size="6.9" fill="#555">=</text><text class="h2" x="68.1" y="153" font-size="7.5">0.001</text>
<line x1="51" y1="167.7" x2="84.4" y2="200.46" stroke="#333" stroke-width="0.75"/>
<line x1="51" y1="171.73" x2="84.4" y2="223.14" stroke="#333" stroke-width="0.75"/>
<line x1="51" y1="179.19" x2="84.4" y2="202.98" stroke="#333" stroke-width="0.75"/>
<line x1="51" y1="179.39" x2="84.4" y2="228.18" stroke="#333" stroke-width="0.75"/>
<line x1="51" y1="191.38" x2="84.4" y2="213.06" stroke="#333" stroke-width="0.75"/>
<line x1="51" y1="230.19" x2="84.4" y2="239.26" stroke="#333" stroke-width="0.75"/>
<line x1="51" y1="232.21" x2="84.4" y2="255.39" stroke="#333" stroke-width="0.75"/>
<circle cx="51" cy="167.7" r="1.6" fill="#000"/>
<rect x="82.8" y="198.86" width="3.2" height="3.2" fill="#000"/>
<circle cx="51" cy="171.73" r="1.6" fill="#000"/>
<rect x="82.8" y="221.54" width="3.2" height="3.2" fill="#000"/>
<circle cx="51" cy="179.19" r="1.6" fill="#000"/>
<rect x="82.8" y="201.38" width="3.2" height="3.2" fill="#000"/>
<circle cx="51" cy="179.39" r="1.6" fill="#000"/>
<rect x="82.8" y="226.58" width="3.2" height="3.2" fill="#000"/>
<circle cx="51" cy="191.38" r="1.6" fill="#000"/>
<rect x="82.8" y="211.46" width="3.2" height="3.2" fill="#000"/>
<circle cx="51" cy="230.19" r="1.6" fill="#000"/>
<rect x="82.8" y="237.66" width="3.2" height="3.2" fill="#000"/>
<circle cx="51" cy="232.21" r="1.6" fill="#000"/>
<rect x="82.8" y="253.79" width="3.2" height="3.2" fill="#000"/>
<line x1="166.9" y1="155.1" x2="166.9" y2="256.4" stroke="#8a8a8a" stroke-width="1.2"/>
<line x1="164.9" y1="256.4" x2="235" y2="256.4" stroke="#8a8a8a" stroke-width="1.2"/>
<line x1="164.7" y1="256.4" x2="166.9" y2="256.4" stroke="#8a8a8a" stroke-width="1"/>
<text class="h2" x="163.5" y="258.75" font-size="6.6" text-anchor="end" fill="#333" stroke="#333">0</text>
<line x1="164.7" y1="236.24" x2="166.9" y2="236.24" stroke="#8a8a8a" stroke-width="1"/>
<text class="h2" x="163.5" y="238.59" font-size="6.6" text-anchor="end" fill="#333" stroke="#333">10</text>
<line x1="164.7" y1="216.08" x2="166.9" y2="216.08" stroke="#8a8a8a" stroke-width="1"/>
<text class="h2" x="163.5" y="218.43" font-size="6.6" text-anchor="end" fill="#333" stroke="#333">20</text>
<line x1="164.7" y1="195.92" x2="166.9" y2="195.92" stroke="#8a8a8a" stroke-width="1"/>
<text class="h2" x="163.5" y="198.27" font-size="6.6" text-anchor="end" fill="#333" stroke="#333">30</text>
<line x1="164.7" y1="175.76" x2="166.9" y2="175.76" stroke="#8a8a8a" stroke-width="1"/>
<text class="h2" x="163.5" y="178.11" font-size="6.6" text-anchor="end" fill="#333" stroke="#333">40</text>
<line x1="164.7" y1="155.6" x2="166.9" y2="155.6" stroke="#8a8a8a" stroke-width="1"/>
<text class="h2" x="163.5" y="157.95" font-size="6.6" text-anchor="end" fill="#333" stroke="#333">50</text>
<line x1="183.75" y1="256.4" x2="183.75" y2="259.4" stroke="#8a8a8a" stroke-width="0.9"/>
<line x1="217.3" y1="256.4" x2="217.3" y2="259.4" stroke="#8a8a8a" stroke-width="0.9"/>
<text class="h3" x="183.25" y="268.4" font-size="9.2" text-anchor="middle">CD39<tspan font-size="6.5" dy="-3.6">-</tspan></text>
<text class="h3" x="218.2" y="268.4" font-size="9.2" text-anchor="middle">CD39<tspan font-size="8.4" dy="-3.4" class="h">+</tspan></text>
<text class="h3" x="150.4" y="200.95" font-size="9.2" text-anchor="middle" textLength="55.3" lengthAdjust="spacing" transform="rotate(-90 150.4 200.95)">% IL2<tspan font-size="8.2" dy="-3.7" dx="0.4">+</tspan><tspan dy="3.7"> Cells</tspan></text>
<polyline points="184,155.3 184,155.3 217.5,155.3 217.5,162.3" fill="none" stroke="#999" stroke-width="0.9"/>
<text class="h2" x="197.6" y="152.9" font-size="8.2" font-style="italic">ns</text>
<line x1="183.75" y1="177.78" x2="217.3" y2="183.82" stroke="#333" stroke-width="0.75"/>
<line x1="183.75" y1="234.22" x2="217.3" y2="217.09" stroke="#333" stroke-width="0.75"/>
<line x1="183.75" y1="240.27" x2="217.3" y2="246.32" stroke="#333" stroke-width="0.75"/>
<line x1="183.75" y1="241.88" x2="217.3" y2="242.29" stroke="#333" stroke-width="0.75"/>
<line x1="183.75" y1="255.59" x2="217.3" y2="256.4" stroke="#333" stroke-width="0.75"/>
<circle cx="183.75" cy="177.78" r="1.6" fill="#000"/>
<rect x="215.7" y="182.22" width="3.2" height="3.2" fill="#000"/>
<circle cx="183.75" cy="234.22" r="1.6" fill="#000"/>
<rect x="215.7" y="215.49" width="3.2" height="3.2" fill="#000"/>
<circle cx="183.75" cy="240.27" r="1.6" fill="#000"/>
<rect x="215.7" y="244.72" width="3.2" height="3.2" fill="#000"/>
<circle cx="183.75" cy="241.88" r="1.6" fill="#000"/>
<rect x="215.7" y="240.69" width="3.2" height="3.2" fill="#000"/>
<circle cx="183.75" cy="255.59" r="1.6" fill="#000"/>
<rect x="215.7" y="254.8" width="3.2" height="3.2" fill="#000"/>
<line x1="299.75" y1="155.1" x2="299.75" y2="256.4" stroke="#8a8a8a" stroke-width="1.2"/>
<line x1="297.75" y1="256.4" x2="368" y2="256.4" stroke="#8a8a8a" stroke-width="1.2"/>
<line x1="297.55" y1="256.4" x2="299.75" y2="256.4" stroke="#8a8a8a" stroke-width="1"/>
<text class="h2" x="296.35" y="258.75" font-size="6.6" text-anchor="end" fill="#333" stroke="#333">0</text>
<line x1="297.55" y1="236.24" x2="299.75" y2="236.24" stroke="#8a8a8a" stroke-width="1"/>
<text class="h2" x="296.35" y="238.59" font-size="6.6" text-anchor="end" fill="#333" stroke="#333">20</text>
<line x1="297.55" y1="216.08" x2="299.75" y2="216.08" stroke="#8a8a8a" stroke-width="1"/>
<text class="h2" x="296.35" y="218.43" font-size="6.6" text-anchor="end" fill="#333" stroke="#333">40</text>
<line x1="297.55" y1="195.92" x2="299.75" y2="195.92" stroke="#8a8a8a" stroke-width="1"/>
<text class="h2" x="296.35" y="198.27" font-size="6.6" text-anchor="end" fill="#333" stroke="#333">60</text>
<line x1="297.55" y1="175.76" x2="299.75" y2="175.76" stroke="#8a8a8a" stroke-width="1"/>
<text class="h2" x="296.35" y="178.11" font-size="6.6" text-anchor="end" fill="#333" stroke="#333">80</text>
<line x1="297.55" y1="155.6" x2="299.75" y2="155.6" stroke="#8a8a8a" stroke-width="1"/>
<text class="h2" x="296.35" y="157.95" font-size="6.6" text-anchor="end" fill="#333" stroke="#333">100</text>
<line x1="316" y1="256.4" x2="316" y2="259.4" stroke="#8a8a8a" stroke-width="0.9"/>
<line x1="349.75" y1="256.4" x2="349.75" y2="259.4" stroke="#8a8a8a" stroke-width="0.9"/>
<text class="h3" x="315.5" y="268.4" font-size="9.2" text-anchor="middle">CD39<tspan font-size="6.5" dy="-3.6">-</tspan></text>
<text class="h3" x="350.65" y="268.4" font-size="9.2" text-anchor="middle">CD39<tspan font-size="8.4" dy="-3.4" class="h">+</tspan></text>
<text class="h3" x="282.2" y="198.9" font-size="9.2" text-anchor="middle" textLength="58.8" lengthAdjust="spacing" transform="rotate(-90 282.2 198.9)">% IFN<tspan dy="-1.2">γ</tspan><tspan font-size="8.2" dy="-2.5" dx="0.4">+</tspan><tspan dy="3.7"> Cells</tspan></text>
<polyline points="315.6,155.3 315.6,155.3 350.6,155.3 350.6,162.3" fill="none" stroke="#999" stroke-width="0.9"/>
<text x="308.7" y="152.8" font-size="7.2" font-weight="bold" fill="#222" letter-spacing="-0.35">****</text><text class="h2" x="320.2" y="153" font-size="8" font-style="italic">P</text><text x="327.2" y="152.8" font-size="7.1" fill="#555">&lt;</text><text class="h2" x="333.3" y="153" font-size="7.7">0.0001</text>
<line x1="316" y1="167.7" x2="349.75" y2="185.34" stroke="#333" stroke-width="0.75"/>
<line x1="316" y1="169.71" x2="349.75" y2="191.38" stroke="#333" stroke-width="0.75"/>
<line x1="316" y1="171.73" x2="349.75" y2="192.9" stroke="#333" stroke-width="0.75"/>
<line x1="316" y1="173.74" x2="349.75" y2="194.41" stroke="#333" stroke-width="0.75"/>
<line x1="316" y1="179.79" x2="349.75" y2="201.46" stroke="#333" stroke-width="0.75"/>
<line x1="316" y1="224.14" x2="349.75" y2="250.35" stroke="#333" stroke-width="0.75"/>
<line x1="316" y1="228.18" x2="349.75" y2="235.23" stroke="#333" stroke-width="0.75"/>
<circle cx="316" cy="167.7" r="1.6" fill="#000"/>
<rect x="348.15" y="183.74" width="3.2" height="3.2" fill="#000"/>
<circle cx="316" cy="169.71" r="1.6" fill="#000"/>
<rect x="348.15" y="189.78" width="3.2" height="3.2" fill="#000"/>
<circle cx="316" cy="171.73" r="1.6" fill="#000"/>
<rect x="348.15" y="191.3" width="3.2" height="3.2" fill="#000"/>
<circle cx="316" cy="173.74" r="1.6" fill="#000"/>
<rect x="348.15" y="192.81" width="3.2" height="3.2" fill="#000"/>
<circle cx="316" cy="179.79" r="1.6" fill="#000"/>
<rect x="348.15" y="199.86" width="3.2" height="3.2" fill="#000"/>
<circle cx="316" cy="224.14" r="1.6" fill="#000"/>
<rect x="348.15" y="248.75" width="3.2" height="3.2" fill="#000"/>
<circle cx="316" cy="228.18" r="1.6" fill="#000"/>
<rect x="348.15" y="233.63" width="3.2" height="3.2" fill="#000"/>
<line x1="431.3" y1="155.1" x2="431.3" y2="256.4" stroke="#8a8a8a" stroke-width="1.2"/>
<line x1="429.3" y1="256.4" x2="502.5" y2="256.4" stroke="#8a8a8a" stroke-width="1.2"/>
<line x1="429.1" y1="256.4" x2="431.3" y2="256.4" stroke="#8a8a8a" stroke-width="1"/>
<text class="h2" x="427.9" y="258.75" font-size="6.6" text-anchor="end" fill="#333" stroke="#333">0</text>
<line x1="429.1" y1="231.2" x2="431.3" y2="231.2" stroke="#8a8a8a" stroke-width="1"/>
<text class="h2" x="427.9" y="233.55" font-size="6.6" text-anchor="end" fill="#333" stroke="#333">20</text>
<line x1="429.1" y1="206" x2="431.3" y2="206" stroke="#8a8a8a" stroke-width="1"/>
<text class="h2" x="427.9" y="208.35" font-size="6.6" text-anchor="end" fill="#333" stroke="#333">40</text>
<line x1="429.1" y1="180.8" x2="431.3" y2="180.8" stroke="#8a8a8a" stroke-width="1"/>
<text class="h2" x="427.9" y="183.15" font-size="6.6" text-anchor="end" fill="#333" stroke="#333">60</text>
<line x1="429.1" y1="155.6" x2="431.3" y2="155.6" stroke="#8a8a8a" stroke-width="1"/>
<text class="h2" x="427.9" y="157.95" font-size="6.6" text-anchor="end" fill="#333" stroke="#333">80</text>
<line x1="448.5" y1="256.4" x2="448.5" y2="259.4" stroke="#8a8a8a" stroke-width="0.9"/>
<line x1="482.5" y1="256.4" x2="482.5" y2="259.4" stroke="#8a8a8a" stroke-width="0.9"/>
<text class="h3" x="448" y="268.4" font-size="9.2" text-anchor="middle">CD39<tspan font-size="6.5" dy="-3.6">-</tspan></text>
<text class="h3" x="483.4" y="268.4" font-size="9.2" text-anchor="middle">CD39<tspan font-size="8.4" dy="-3.4" class="h">+</tspan></text>
<text class="h3" x="415.1" y="197.15" font-size="9.2" text-anchor="middle" textLength="73.4" lengthAdjust="spacing" transform="rotate(-90 415.1 197.15)">% CD107a<tspan font-size="8.2" dy="-3.7" dx="0.4">+</tspan><tspan dy="3.7"> Cells</tspan></text>
<polyline points="448.5,162.3 448.5,155.3 483.1,155.3 483.1,155.3" fill="none" stroke="#999" stroke-width="0.9"/>
<text x="446.9" y="152.8" font-size="7.2" font-weight="bold" fill="#222" letter-spacing="-0.35">*</text><text class="h2" x="449.5" y="153" font-size="8.3" font-style="italic">P</text><text x="456.5" y="152.8" font-size="7.4" fill="#555">=</text><text class="h2" x="462.7" y="153" font-size="8">0.049</text>
<line x1="448.5" y1="197.18" x2="482.5" y2="182.06" stroke="#333" stroke-width="0.75"/>
<line x1="448.5" y1="226.16" x2="482.5" y2="167.57" stroke="#333" stroke-width="0.75"/>
<line x1="448.5" y1="219.23" x2="482.5" y2="216.08" stroke="#333" stroke-width="0.75"/>
<line x1="448.5" y1="219.48" x2="482.5" y2="214.82" stroke="#333" stroke-width="0.75"/>
<line x1="448.5" y1="229.94" x2="482.5" y2="217.34" stroke="#333" stroke-width="0.75"/>
<line x1="448.5" y1="234.35" x2="482.5" y2="224.9" stroke="#333" stroke-width="0.75"/>
<circle cx="448.5" cy="197.18" r="1.6" fill="#000"/>
<rect x="480.9" y="180.46" width="3.2" height="3.2" fill="#000"/>
<circle cx="448.5" cy="226.16" r="1.6" fill="#000"/>
<rect x="480.9" y="165.97" width="3.2" height="3.2" fill="#000"/>
<circle cx="448.5" cy="219.23" r="1.6" fill="#000"/>
<rect x="480.9" y="214.48" width="3.2" height="3.2" fill="#000"/>
<circle cx="448.5" cy="219.48" r="1.6" fill="#000"/>
<rect x="480.9" y="213.22" width="3.2" height="3.2" fill="#000"/>
<circle cx="448.5" cy="229.94" r="1.6" fill="#000"/>
<rect x="480.9" y="215.74" width="3.2" height="3.2" fill="#000"/>
<circle cx="448.5" cy="234.35" r="1.6" fill="#000"/>
<rect x="480.9" y="223.3" width="3.2" height="3.2" fill="#000"/>
<line x1="34.2" y1="449.25" x2="34.2" y2="550.3" stroke="#8a8a8a" stroke-width="1.2"/>
<line x1="32.2" y1="550.3" x2="101.5" y2="550.3" stroke="#8a8a8a" stroke-width="1.2"/>
<line x1="32" y1="550.3" x2="34.2" y2="550.3" stroke="#8a8a8a" stroke-width="1"/>
<text class="h2" x="30.8" y="552.65" font-size="6.6" text-anchor="end" fill="#333" stroke="#333">0</text>
<line x1="32" y1="530.19" x2="34.2" y2="530.19" stroke="#8a8a8a" stroke-width="1"/>
<text class="h2" x="30.8" y="532.54" font-size="6.6" text-anchor="end" fill="#333" stroke="#333">20</text>
<line x1="32" y1="510.08" x2="34.2" y2="510.08" stroke="#8a8a8a" stroke-width="1"/>
<text class="h2" x="30.8" y="512.43" font-size="6.6" text-anchor="end" fill="#333" stroke="#333">40</text>
<line x1="32" y1="489.97" x2="34.2" y2="489.97" stroke="#8a8a8a" stroke-width="1"/>
<text class="h2" x="30.8" y="492.32" font-size="6.6" text-anchor="end" fill="#333" stroke="#333">60</text>
<line x1="32" y1="469.86" x2="34.2" y2="469.86" stroke="#8a8a8a" stroke-width="1"/>
<text class="h2" x="30.8" y="472.21" font-size="6.6" text-anchor="end" fill="#333" stroke="#333">80</text>
<line x1="32" y1="449.75" x2="34.2" y2="449.75" stroke="#8a8a8a" stroke-width="1"/>
<text class="h2" x="30.8" y="452.1" font-size="6.6" text-anchor="end" fill="#333" stroke="#333">100</text>
<line x1="51.5" y1="550.3" x2="51.5" y2="553.3" stroke="#8a8a8a" stroke-width="0.9"/>
<line x1="85.6" y1="550.3" x2="85.6" y2="553.3" stroke="#8a8a8a" stroke-width="0.9"/>
<text class="h3" x="51" y="562.3" font-size="9.2" text-anchor="middle">CD39<tspan font-size="6.5" dy="-3.6">-</tspan></text>
<text class="h3" x="86.5" y="562.3" font-size="9.2" text-anchor="middle">CD39<tspan font-size="8.4" dy="-3.4" class="h">+</tspan></text>
<text class="h3" x="17.4" y="495.8" font-size="9.2" text-anchor="middle" textLength="55" lengthAdjust="spacing" transform="rotate(-90 17.4 495.8)">% TNF<tspan font-size="8.2" dy="-3.7" dx="0.4">+</tspan><tspan dy="3.7"> Cells</tspan></text>
<polyline points="51.5,449.45 51.5,449.45 85.6,449.45 85.6,456.45" fill="none" stroke="#999" stroke-width="0.9"/>
<text x="47.9" y="446.7" font-size="7.2" font-weight="bold" fill="#222" letter-spacing="-0.35">***</text><text class="h2" x="56.6" y="446.9" font-size="8.2" font-style="italic">P</text><text x="63.1" y="446.7" font-size="7.3" fill="#555">=</text><text class="h2" x="69.2" y="446.9" font-size="7.9">0.001</text>
<line x1="51.5" y1="464.83" x2="85.6" y2="509.58" stroke="#333" stroke-width="0.75"/>
<line x1="51.5" y1="480.92" x2="85.6" y2="499.02" stroke="#333" stroke-width="0.75"/>
<line x1="51.5" y1="483.43" x2="85.6" y2="498.01" stroke="#333" stroke-width="0.75"/>
<line x1="51.5" y1="491.98" x2="85.6" y2="528.18" stroke="#333" stroke-width="0.75"/>
<line x1="51.5" y1="491.78" x2="85.6" y2="530.19" stroke="#333" stroke-width="0.75"/>
<line x1="51.5" y1="496" x2="85.6" y2="538.74" stroke="#333" stroke-width="0.75"/>
<line x1="51.5" y1="502.04" x2="85.6" y2="532.2" stroke="#333" stroke-width="0.75"/>
<circle cx="51.5" cy="464.83" r="1.6" fill="#000"/>
<rect x="84" y="507.98" width="3.2" height="3.2" fill="#000"/>
<circle cx="51.5" cy="480.92" r="1.6" fill="#000"/>
<rect x="84" y="497.42" width="3.2" height="3.2" fill="#000"/>
<circle cx="51.5" cy="483.43" r="1.6" fill="#000"/>
<rect x="84" y="496.41" width="3.2" height="3.2" fill="#000"/>
<circle cx="51.5" cy="491.98" r="1.6" fill="#000"/>
<rect x="84" y="526.58" width="3.2" height="3.2" fill="#000"/>
<circle cx="51.5" cy="491.78" r="1.6" fill="#000"/>
<rect x="84" y="528.59" width="3.2" height="3.2" fill="#000"/>
<circle cx="51.5" cy="496" r="1.6" fill="#000"/>
<rect x="84" y="537.14" width="3.2" height="3.2" fill="#000"/>
<circle cx="51.5" cy="502.04" r="1.6" fill="#000"/>
<rect x="84" y="530.6" width="3.2" height="3.2" fill="#000"/>
<line x1="167" y1="449.25" x2="167" y2="550.3" stroke="#8a8a8a" stroke-width="1.2"/>
<line x1="165" y1="550.3" x2="235" y2="550.3" stroke="#8a8a8a" stroke-width="1.2"/>
<line x1="164.8" y1="550.3" x2="167" y2="550.3" stroke="#8a8a8a" stroke-width="1"/>
<text class="h2" x="163.6" y="552.65" font-size="6.6" text-anchor="end" fill="#333" stroke="#333">0</text>
<line x1="164.8" y1="525.16" x2="167" y2="525.16" stroke="#8a8a8a" stroke-width="1"/>
<text class="h2" x="163.6" y="527.51" font-size="6.6" text-anchor="end" fill="#333" stroke="#333">10</text>
<line x1="164.8" y1="500.02" x2="167" y2="500.02" stroke="#8a8a8a" stroke-width="1"/>
<text class="h2" x="163.6" y="502.38" font-size="6.6" text-anchor="end" fill="#333" stroke="#333">20</text>
<line x1="164.8" y1="474.89" x2="167" y2="474.89" stroke="#8a8a8a" stroke-width="1"/>
<text class="h2" x="163.6" y="477.24" font-size="6.6" text-anchor="end" fill="#333" stroke="#333">30</text>
<line x1="164.8" y1="449.75" x2="167" y2="449.75" stroke="#8a8a8a" stroke-width="1"/>
<text class="h2" x="163.6" y="452.1" font-size="6.6" text-anchor="end" fill="#333" stroke="#333">40</text>
<line x1="184.1" y1="550.3" x2="184.1" y2="553.3" stroke="#8a8a8a" stroke-width="0.9"/>
<line x1="218.8" y1="550.3" x2="218.8" y2="553.3" stroke="#8a8a8a" stroke-width="0.9"/>
<text class="h3" x="183.6" y="562.3" font-size="9.2" text-anchor="middle">CD39<tspan font-size="6.5" dy="-3.6">-</tspan></text>
<text class="h3" x="219.7" y="562.3" font-size="9.2" text-anchor="middle">CD39<tspan font-size="8.4" dy="-3.4" class="h">+</tspan></text>
<text class="h3" x="150.2" y="498.2" font-size="9.2" text-anchor="middle" textLength="50.3" lengthAdjust="spacing" transform="rotate(-90 150.2 498.2)">% IL2<tspan font-size="8.2" dy="-3.7" dx="0.4">+</tspan><tspan dy="3.7"> Cells</tspan></text>
<polyline points="184,449.45 184,449.45 219.3,449.45 219.3,456.45" fill="none" stroke="#999" stroke-width="0.9"/>
<text x="183.8" y="446.7" font-size="7.2" font-weight="bold" fill="#222" letter-spacing="-0.35">*</text><text class="h2" x="186.8" y="446.9" font-size="8.2" font-style="italic">P</text><text x="193.4" y="446.7" font-size="7.3" fill="#555">=</text><text class="h2" x="199.7" y="446.9" font-size="7.9">0.023</text>
<line x1="184.1" y1="477.4" x2="218.8" y2="483.69" stroke="#333" stroke-width="0.75"/>
<line x1="184.1" y1="483.69" x2="218.8" y2="492.48" stroke="#333" stroke-width="0.75"/>
<line x1="184.1" y1="502.54" x2="218.8" y2="537.73" stroke="#333" stroke-width="0.75"/>
<line x1="184.1" y1="511.34" x2="218.8" y2="531.45" stroke="#333" stroke-width="0.75"/>
<line x1="184.1" y1="520.13" x2="218.8" y2="525.16" stroke="#333" stroke-width="0.75"/>
<circle cx="184.1" cy="477.4" r="1.6" fill="#000"/>
<rect x="217.2" y="482.09" width="3.2" height="3.2" fill="#000"/>
<circle cx="184.1" cy="483.69" r="1.6" fill="#000"/>
<rect x="217.2" y="490.88" width="3.2" height="3.2" fill="#000"/>
<circle cx="184.1" cy="502.54" r="1.6" fill="#000"/>
<rect x="217.2" y="536.13" width="3.2" height="3.2" fill="#000"/>
<circle cx="184.1" cy="511.34" r="1.6" fill="#000"/>
<rect x="217.2" y="529.85" width="3.2" height="3.2" fill="#000"/>
<circle cx="184.1" cy="520.13" r="1.6" fill="#000"/>
<rect x="217.2" y="523.56" width="3.2" height="3.2" fill="#000"/>
<line x1="299.5" y1="449.25" x2="299.5" y2="550.3" stroke="#8a8a8a" stroke-width="1.2"/>
<line x1="297.5" y1="550.3" x2="368" y2="550.3" stroke="#8a8a8a" stroke-width="1.2"/>
<line x1="297.3" y1="550.3" x2="299.5" y2="550.3" stroke="#8a8a8a" stroke-width="1"/>
<text class="h2" x="296.1" y="552.65" font-size="6.6" text-anchor="end" fill="#333" stroke="#333">0</text>
<line x1="297.3" y1="530.19" x2="299.5" y2="530.19" stroke="#8a8a8a" stroke-width="1"/>
<text class="h2" x="296.1" y="532.54" font-size="6.6" text-anchor="end" fill="#333" stroke="#333">20</text>
<line x1="297.3" y1="510.08" x2="299.5" y2="510.08" stroke="#8a8a8a" stroke-width="1"/>
<text class="h2" x="296.1" y="512.43" font-size="6.6" text-anchor="end" fill="#333" stroke="#333">40</text>
<line x1="297.3" y1="489.97" x2="299.5" y2="489.97" stroke="#8a8a8a" stroke-width="1"/>
<text class="h2" x="296.1" y="492.32" font-size="6.6" text-anchor="end" fill="#333" stroke="#333">60</text>
<line x1="297.3" y1="469.86" x2="299.5" y2="469.86" stroke="#8a8a8a" stroke-width="1"/>
<text class="h2" x="296.1" y="472.21" font-size="6.6" text-anchor="end" fill="#333" stroke="#333">80</text>
<line x1="297.3" y1="449.75" x2="299.5" y2="449.75" stroke="#8a8a8a" stroke-width="1"/>
<text class="h2" x="296.1" y="452.1" font-size="6.6" text-anchor="end" fill="#333" stroke="#333">100</text>
<line x1="316.7" y1="550.3" x2="316.7" y2="553.3" stroke="#8a8a8a" stroke-width="0.9"/>
<line x1="350.5" y1="550.3" x2="350.5" y2="553.3" stroke="#8a8a8a" stroke-width="0.9"/>
<text class="h3" x="316.2" y="562.3" font-size="9.2" text-anchor="middle">CD39<tspan font-size="6.5" dy="-3.6">-</tspan></text>
<text class="h3" x="351.4" y="562.3" font-size="9.2" text-anchor="middle">CD39<tspan font-size="8.4" dy="-3.4" class="h">+</tspan></text>
<text class="h3" x="282.2" y="495.1" font-size="9.2" text-anchor="middle" textLength="56.4" lengthAdjust="spacing" transform="rotate(-90 282.2 495.1)">% IFN<tspan dy="-1.2">γ</tspan><tspan font-size="8.2" dy="-2.5" dx="0.4">+</tspan><tspan dy="3.7"> Cells</tspan></text>
<polyline points="316.2,449.45 316.2,449.45 350.5,449.45 350.5,456.45" fill="none" stroke="#999" stroke-width="0.9"/>
<text x="313.2" y="446.7" font-size="7.2" font-weight="bold" fill="#222" letter-spacing="-0.35">**</text><text class="h2" x="319.4" y="446.9" font-size="8.2" font-style="italic">P</text><text x="326.1" y="446.7" font-size="7.3" fill="#555">=</text><text class="h2" x="331.9" y="446.9" font-size="7.9">0.005</text>
<line x1="316.7" y1="460.81" x2="350.5" y2="479.41" stroke="#333" stroke-width="0.75"/>
<line x1="316.7" y1="491.48" x2="350.5" y2="503.04" stroke="#333" stroke-width="0.75"/>
<line x1="316.7" y1="489.97" x2="350.5" y2="541.25" stroke="#333" stroke-width="0.75"/>
<line x1="316.7" y1="500.02" x2="350.5" y2="518.12" stroke="#333" stroke-width="0.75"/>
<line x1="316.7" y1="505.05" x2="350.5" y2="524.66" stroke="#333" stroke-width="0.75"/>
<line x1="316.7" y1="505.56" x2="350.5" y2="528.68" stroke="#333" stroke-width="0.75"/>
<circle cx="316.7" cy="460.81" r="1.6" fill="#000"/>
<rect x="348.9" y="477.81" width="3.2" height="3.2" fill="#000"/>
<circle cx="316.7" cy="491.48" r="1.6" fill="#000"/>
<rect x="348.9" y="501.44" width="3.2" height="3.2" fill="#000"/>
<circle cx="316.7" cy="489.97" r="1.6" fill="#000"/>
<rect x="348.9" y="539.65" width="3.2" height="3.2" fill="#000"/>
<circle cx="316.7" cy="500.02" r="1.6" fill="#000"/>
<rect x="348.9" y="516.52" width="3.2" height="3.2" fill="#000"/>
<circle cx="316.7" cy="505.05" r="1.6" fill="#000"/>
<rect x="348.9" y="523.06" width="3.2" height="3.2" fill="#000"/>
<circle cx="316.7" cy="505.56" r="1.6" fill="#000"/>
<rect x="348.9" y="527.08" width="3.2" height="3.2" fill="#000"/>
<line x1="431.8" y1="449.25" x2="431.8" y2="550.3" stroke="#8a8a8a" stroke-width="1.2"/>
<line x1="429.8" y1="550.3" x2="495.8" y2="550.3" stroke="#8a8a8a" stroke-width="1.2"/>
<line x1="429.6" y1="550.3" x2="431.8" y2="550.3" stroke="#8a8a8a" stroke-width="1"/>
<text class="h2" x="428.4" y="552.65" font-size="6.6" text-anchor="end" fill="#333" stroke="#333">0</text>
<line x1="429.6" y1="530.19" x2="431.8" y2="530.19" stroke="#8a8a8a" stroke-width="1"/>
<text class="h2" x="428.4" y="532.54" font-size="6.6" text-anchor="end" fill="#333" stroke="#333">10</text>
<line x1="429.6" y1="510.08" x2="431.8" y2="510.08" stroke="#8a8a8a" stroke-width="1"/>
<text class="h2" x="428.4" y="512.43" font-size="6.6" text-anchor="end" fill="#333" stroke="#333">20</text>
<line x1="429.6" y1="489.97" x2="431.8" y2="489.97" stroke="#8a8a8a" stroke-width="1"/>
<text class="h2" x="428.4" y="492.32" font-size="6.6" text-anchor="end" fill="#333" stroke="#333">30</text>
<line x1="429.6" y1="469.86" x2="431.8" y2="469.86" stroke="#8a8a8a" stroke-width="1"/>
<text class="h2" x="428.4" y="472.21" font-size="6.6" text-anchor="end" fill="#333" stroke="#333">40</text>
<line x1="429.6" y1="449.75" x2="431.8" y2="449.75" stroke="#8a8a8a" stroke-width="1"/>
<text class="h2" x="428.4" y="452.1" font-size="6.6" text-anchor="end" fill="#333" stroke="#333">50</text>
<line x1="449" y1="550.3" x2="449" y2="553.3" stroke="#8a8a8a" stroke-width="0.9"/>
<line x1="483.3" y1="550.3" x2="483.3" y2="553.3" stroke="#8a8a8a" stroke-width="0.9"/>
<text class="h3" x="448.5" y="562.3" font-size="9.2" text-anchor="middle">CD39<tspan font-size="6.5" dy="-3.6">-</tspan></text>
<text class="h3" x="484.2" y="562.3" font-size="9.2" text-anchor="middle">CD39<tspan font-size="8.4" dy="-3.4" class="h">+</tspan></text>
<text class="h3" x="415.6" y="494.1" font-size="9.2" text-anchor="middle" textLength="69.4" lengthAdjust="spacing" transform="rotate(-90 415.6 494.1)">% CD107a<tspan font-size="8.2" dy="-3.7" dx="0.4">+</tspan><tspan dy="3.7"> Cells</tspan></text>
<polyline points="448.8,456.45 448.8,449.45 483.6,449.45 483.6,449.45" fill="none" stroke="#999" stroke-width="0.9"/>
<text x="446.9" y="446.7" font-size="7.2" font-weight="bold" fill="#222" letter-spacing="-0.35">*</text><text class="h2" x="449.5" y="446.9" font-size="8.2" font-style="italic">P</text><text x="456.5" y="446.7" font-size="7.3" fill="#555">=</text><text class="h2" x="462.8" y="446.9" font-size="7.9">0.019</text>
<line x1="449" y1="477.9" x2="483.3" y2="469.86" stroke="#333" stroke-width="0.75"/>
<line x1="449" y1="505.05" x2="483.3" y2="485.95" stroke="#333" stroke-width="0.75"/>
<line x1="449" y1="541.25" x2="483.3" y2="505.05" stroke="#333" stroke-width="0.75"/>
<line x1="449" y1="528.18" x2="483.3" y2="522.15" stroke="#333" stroke-width="0.75"/>
<line x1="449" y1="529.18" x2="483.3" y2="518.12" stroke="#333" stroke-width="0.75"/>
<line x1="449" y1="538.23" x2="483.3" y2="533.21" stroke="#333" stroke-width="0.75"/>
<circle cx="449" cy="477.9" r="1.6" fill="#000"/>
<rect x="481.7" y="468.26" width="3.2" height="3.2" fill="#000"/>
<circle cx="449" cy="505.05" r="1.6" fill="#000"/>
<rect x="481.7" y="484.35" width="3.2" height="3.2" fill="#000"/>
<circle cx="449" cy="541.25" r="1.6" fill="#000"/>
<rect x="481.7" y="503.45" width="3.2" height="3.2" fill="#000"/>
<circle cx="449" cy="528.18" r="1.6" fill="#000"/>
<rect x="481.7" y="520.55" width="3.2" height="3.2" fill="#000"/>
<circle cx="449" cy="529.18" r="1.6" fill="#000"/>
<rect x="481.7" y="516.52" width="3.2" height="3.2" fill="#000"/>
<circle cx="449" cy="538.23" r="1.6" fill="#000"/>
<rect x="481.7" y="531.61" width="3.2" height="3.2" fill="#000"/>
</svg></body></html>
